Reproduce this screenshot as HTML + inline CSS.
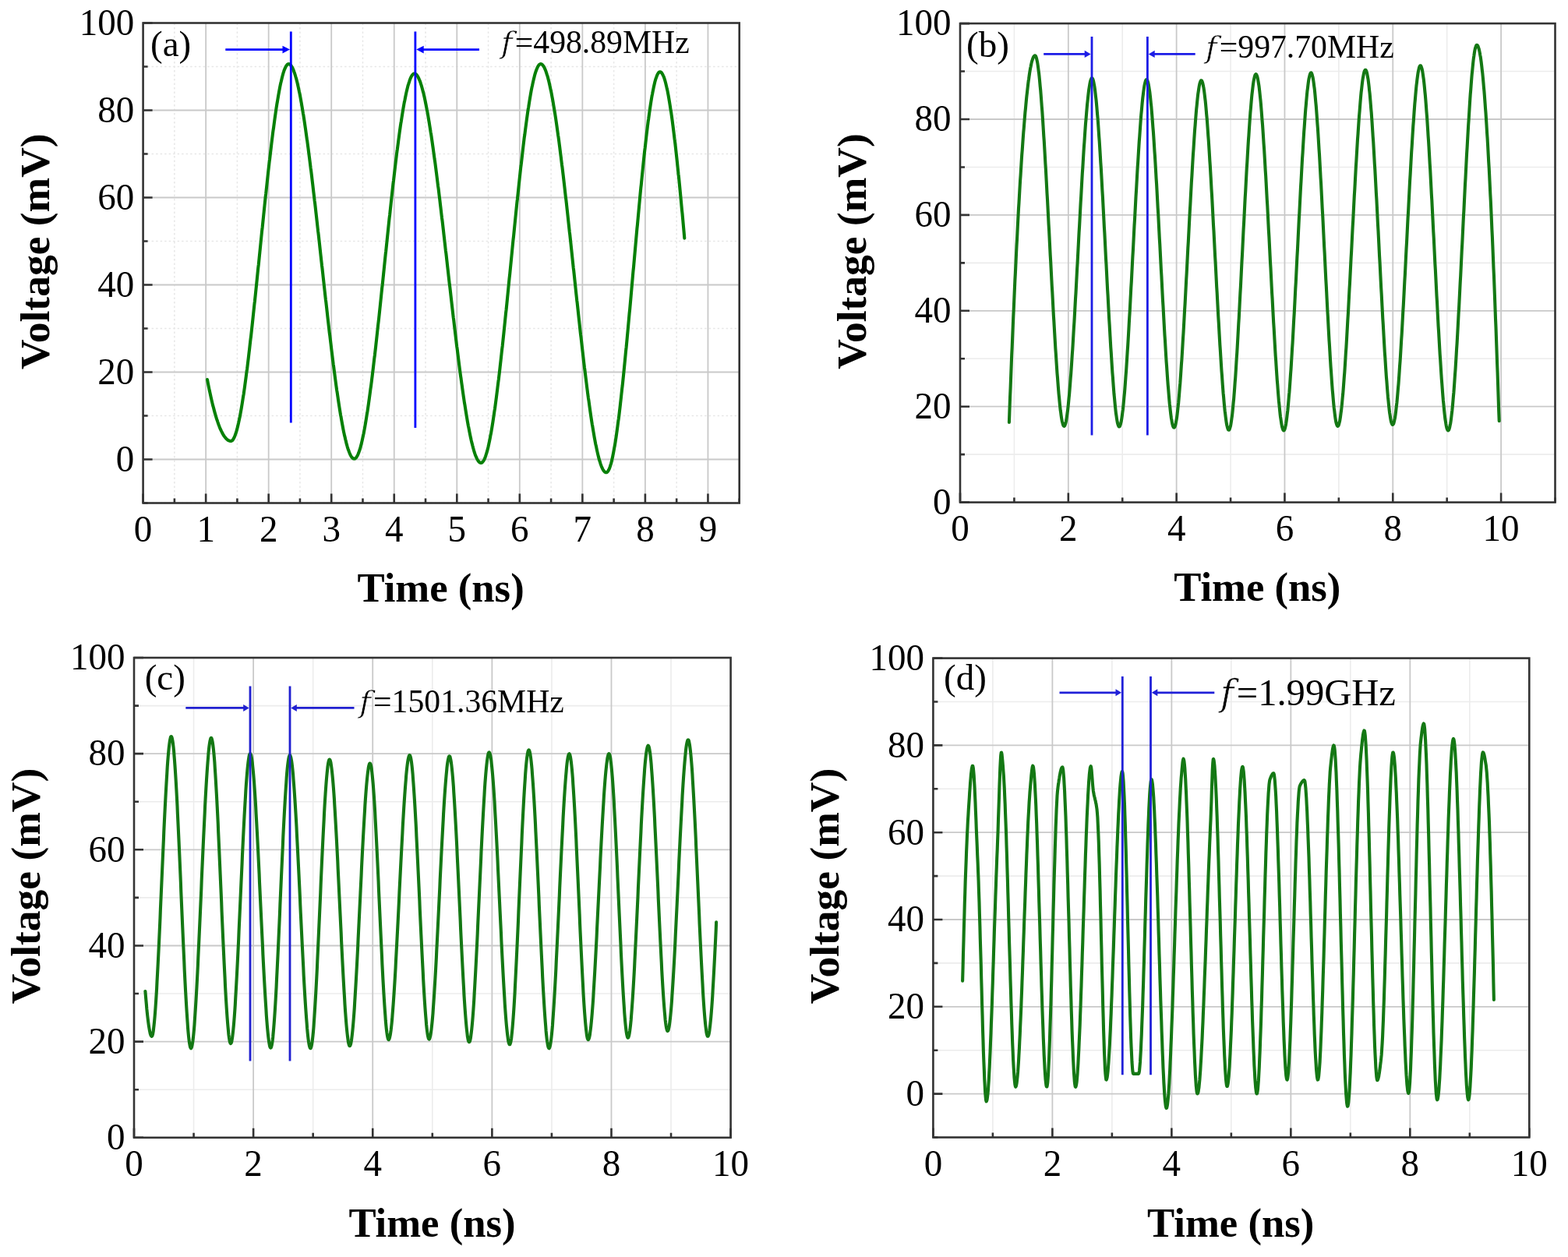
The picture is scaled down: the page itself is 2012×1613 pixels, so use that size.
<!DOCTYPE html>
<html><head><meta charset="utf-8"><title>Voltage waveforms</title><style>
html,body{margin:0;padding:0;background:#fff;}
svg{display:block;}
.gmin{stroke:#e7e7e7;stroke-width:1.5;stroke-dasharray:2.5 3;}
.gmin2{stroke:#ececec;stroke-width:1.6;}
.gmaj{stroke:#c9c9c9;stroke-width:1.8;}
.frame{fill:none;stroke:#333;stroke-width:2.6;}
.tick{fill:none;stroke:#333;stroke-width:2.6;}
.curve{fill:none;stroke:#078007;stroke-width:4.1;stroke-linejoin:round;stroke-linecap:round;}
.blue{fill:none;stroke:#0000ff;stroke-width:2.8;}
.bluef{fill:#0000ff;}
.tl{font-family:"Liberation Serif", "Times New Roman", serif;font-size:47px;fill:#000;}
.ti{font-family:"Liberation Serif", "Times New Roman", serif;font-size:53.5px;font-weight:bold;fill:#000;}
.tt{font-size:52.7px;}
.tk{font-size:49px;}
.ann{font-family:"Liberation Serif", "Times New Roman", serif;font-size:40px;fill:#000;}
.fi{font-family:"DejaVu Serif", "Liberation Serif", serif;font-style:italic;stroke:#fff;stroke-width:0.6px;paint-order:normal;}
</style></head>
<body><svg width="2012" height="1613" viewBox="0 0 2012 1613">
<rect width="2012" height="1613" fill="#fff"/>
<g id="pa">
<line x1="223.87" y1="29.5" x2="223.87" y2="645.5" class="gmin"/>
<line x1="304.41" y1="29.5" x2="304.41" y2="645.5" class="gmin"/>
<line x1="384.94" y1="29.5" x2="384.94" y2="645.5" class="gmin"/>
<line x1="465.48" y1="29.5" x2="465.48" y2="645.5" class="gmin"/>
<line x1="546.02" y1="29.5" x2="546.02" y2="645.5" class="gmin"/>
<line x1="626.55" y1="29.5" x2="626.55" y2="645.5" class="gmin"/>
<line x1="707.09" y1="29.5" x2="707.09" y2="645.5" class="gmin"/>
<line x1="787.63" y1="29.5" x2="787.63" y2="645.5" class="gmin"/>
<line x1="868.16" y1="29.5" x2="868.16" y2="645.5" class="gmin"/>
<line x1="948.7" y1="29.5" x2="948.7" y2="645.5" class="gmin"/>
<line x1="183.6" y1="645.5" x2="948.7" y2="645.5" class="gmin"/>
<line x1="183.6" y1="533.5" x2="948.7" y2="533.5" class="gmin"/>
<line x1="183.6" y1="421.5" x2="948.7" y2="421.5" class="gmin"/>
<line x1="183.6" y1="309.5" x2="948.7" y2="309.5" class="gmin"/>
<line x1="183.6" y1="197.5" x2="948.7" y2="197.5" class="gmin"/>
<line x1="183.6" y1="85.5" x2="948.7" y2="85.5" class="gmin"/>
<line x1="264.14" y1="29.5" x2="264.14" y2="645.5" class="gmaj"/>
<line x1="344.67" y1="29.5" x2="344.67" y2="645.5" class="gmaj"/>
<line x1="425.21" y1="29.5" x2="425.21" y2="645.5" class="gmaj"/>
<line x1="505.75" y1="29.5" x2="505.75" y2="645.5" class="gmaj"/>
<line x1="586.28" y1="29.5" x2="586.28" y2="645.5" class="gmaj"/>
<line x1="666.82" y1="29.5" x2="666.82" y2="645.5" class="gmaj"/>
<line x1="747.36" y1="29.5" x2="747.36" y2="645.5" class="gmaj"/>
<line x1="827.89" y1="29.5" x2="827.89" y2="645.5" class="gmaj"/>
<line x1="908.43" y1="29.5" x2="908.43" y2="645.5" class="gmaj"/>
<line x1="183.6" y1="589.5" x2="948.7" y2="589.5" class="gmaj"/>
<line x1="183.6" y1="477.5" x2="948.7" y2="477.5" class="gmaj"/>
<line x1="183.6" y1="365.5" x2="948.7" y2="365.5" class="gmaj"/>
<line x1="183.6" y1="253.5" x2="948.7" y2="253.5" class="gmaj"/>
<line x1="183.6" y1="141.5" x2="948.7" y2="141.5" class="gmaj"/>
<polyline points="266.0,487.0 266.4,489.2 266.8,491.3 267.2,493.3 267.6,495.4 268.0,497.4 268.4,499.4 268.8,501.3 269.3,503.3 269.7,505.2 270.1,507.0 270.5,508.9 270.9,510.7 271.3,512.4 271.7,514.2 272.1,515.9 272.5,517.6 272.9,519.3 273.3,520.9 273.8,522.5 274.2,524.1 274.6,525.6 275.0,527.1 275.4,528.6 275.8,530.1 276.2,531.5 276.6,532.9 277.0,534.3 277.4,535.6 277.8,536.9 278.2,538.2 278.7,539.4 279.1,540.7 279.5,541.9 279.9,543.0 280.3,544.2 280.7,545.3 281.1,546.3 281.5,547.4 281.9,548.4 282.3,549.4 282.7,550.4 283.1,551.3 283.6,552.2 284.0,553.1 284.4,553.9 284.8,554.7 285.2,555.5 285.6,556.3 286.0,557.0 286.4,557.7 286.8,558.4 287.2,559.0 287.6,559.6 288.0,560.2 288.5,560.8 288.9,561.3 289.3,561.8 289.7,562.3 290.1,562.7 290.5,563.1 290.9,563.5 291.3,563.9 291.7,564.2 292.1,564.5 292.5,564.8 292.9,565.0 293.4,565.3 293.8,565.4 294.2,565.6 294.6,565.7 295.0,565.8 295.4,565.9 295.8,566.0 296.2,566.0 296.6,565.9 297.0,565.8 297.4,565.6 297.9,565.3 298.3,565.0 298.7,564.5 299.1,564.0 299.5,563.3 299.9,562.6 300.3,561.8 300.7,561.0 301.1,560.0 301.5,559.0 301.9,557.9 302.3,556.8 302.8,555.5 303.2,554.2 303.6,552.8 304.0,551.4 304.4,549.8 304.8,548.2 305.2,546.6 305.6,544.8 306.0,543.1 306.4,541.2 306.8,539.3 307.2,537.3 307.7,535.2 308.1,533.1 308.5,530.9 308.9,528.7 309.3,526.4 309.7,524.1 310.1,521.7 310.5,519.2 310.9,516.7 311.3,514.1 311.7,511.5 312.1,508.9 312.6,506.1 313.0,503.4 313.4,500.5 313.8,497.7 314.2,494.8 314.6,491.8 315.0,488.8 315.4,485.8 315.8,482.7 316.2,479.5 316.6,476.4 317.1,473.2 317.5,469.9 317.9,466.6 318.3,463.3 318.7,459.9 319.1,456.6 319.5,453.1 319.9,449.7 320.3,446.2 320.7,442.6 321.1,439.1 321.5,435.5 322.0,431.9 322.4,428.3 322.8,424.6 323.2,420.9 323.6,417.2 324.0,413.5 324.4,409.7 324.8,405.9 325.2,402.1 325.6,398.3 326.0,394.5 326.4,390.6 326.9,386.7 327.3,382.8 327.7,378.9 328.1,375.0 328.5,371.1 328.9,367.2 329.3,363.2 329.7,359.3 330.1,355.3 330.5,351.3 330.9,347.3 331.3,343.3 331.8,339.4 332.2,335.4 332.6,331.4 333.0,327.4 333.4,323.4 333.8,319.4 334.2,315.4 334.6,311.4 335.0,307.4 335.4,303.4 335.8,299.4 336.2,295.4 336.7,291.4 337.1,287.5 337.5,283.5 337.9,279.6 338.3,275.6 338.7,271.7 339.1,267.8 339.5,263.9 339.9,260.0 340.3,256.2 340.7,252.3 341.2,248.5 341.6,244.7 342.0,240.9 342.4,237.1 342.8,233.4 343.2,229.6 343.6,225.9 344.0,222.2 344.4,218.6 344.8,215.0 345.2,211.4 345.6,207.8 346.1,204.2 346.5,200.7 346.9,197.2 347.3,193.8 347.7,190.4 348.1,187.0 348.5,183.6 348.9,180.3 349.3,177.1 349.7,173.8 350.1,170.6 350.5,167.5 351.0,164.4 351.4,161.3 351.8,158.3 352.2,155.3 352.6,152.3 353.0,149.4 353.4,146.6 353.8,143.8 354.2,141.0 354.6,138.3 355.0,135.7 355.4,133.1 355.9,130.5 356.3,128.0 356.7,125.6 357.1,123.2 357.5,120.9 357.9,118.6 358.3,116.4 358.7,114.3 359.1,112.2 359.5,110.1 359.9,108.2 360.3,106.3 360.8,104.4 361.2,102.7 361.6,101.0 362.0,99.3 362.4,97.7 362.8,96.2 363.2,94.8 363.6,93.4 364.0,92.2 364.4,90.9 364.8,89.8 365.3,88.7 365.7,87.7 366.1,86.8 366.5,86.0 366.9,85.2 367.3,84.6 367.7,84.0 368.1,83.5 368.5,83.0 368.9,82.7 369.3,82.4 369.7,82.2 370.2,82.2 370.6,82.1 371.0,82.2 371.4,82.4 371.8,82.6 372.2,82.8 372.6,83.2 373.0,83.6 373.4,84.1 373.8,84.6 374.2,85.3 374.6,85.9 375.1,86.7 375.5,87.5 375.9,88.4 376.3,89.3 376.7,90.3 377.1,91.3 377.5,92.5 377.9,93.6 378.3,94.9 378.7,96.2 379.1,97.5 379.5,98.9 380.0,100.4 380.4,101.9 380.8,103.5 381.2,105.1 381.6,106.8 382.0,108.5 382.4,110.3 382.8,112.1 383.2,114.0 383.6,115.9 384.0,117.9 384.5,120.0 384.9,122.0 385.3,124.2 385.7,126.3 386.1,128.6 386.5,130.8 386.9,133.1 387.3,135.5 387.7,137.9 388.1,140.3 388.5,142.8 388.9,145.3 389.4,147.9 389.8,150.5 390.2,153.1 390.6,155.8 391.0,158.5 391.4,161.2 391.8,164.0 392.2,166.8 392.6,169.7 393.0,172.6 393.4,175.5 393.8,178.4 394.3,181.4 394.7,184.4 395.1,187.5 395.5,190.5 395.9,193.7 396.3,196.8 396.7,199.9 397.1,203.1 397.5,206.3 397.9,209.6 398.3,212.8 398.7,216.1 399.2,219.4 399.6,222.8 400.0,226.1 400.4,229.5 400.8,232.9 401.2,236.3 401.6,239.7 402.0,243.2 402.4,246.7 402.8,250.1 403.2,253.6 403.6,257.2 404.1,260.7 404.5,264.2 404.9,267.8 405.3,271.4 405.7,275.0 406.1,278.6 406.5,282.2 406.9,285.8 407.3,289.4 407.7,293.1 408.1,296.7 408.6,300.4 409.0,304.0 409.4,307.7 409.8,311.4 410.2,315.0 410.6,318.7 411.0,322.4 411.4,326.1 411.8,329.8 412.2,333.5 412.6,337.1 413.0,340.8 413.5,344.5 413.9,348.2 414.3,351.9 414.7,355.6 415.1,359.2 415.5,362.9 415.9,366.6 416.3,370.2 416.7,373.9 417.1,377.5 417.5,381.2 417.9,384.8 418.4,388.4 418.8,392.0 419.2,395.6 419.6,399.2 420.0,402.8 420.4,406.4 420.8,409.9 421.2,413.5 421.6,417.0 422.0,420.5 422.4,424.0 422.8,427.4 423.3,430.9 423.7,434.3 424.1,437.7 424.5,441.1 424.9,444.5 425.3,447.9 425.7,451.2 426.1,454.5 426.5,457.8 426.9,461.1 427.3,464.3 427.7,467.5 428.2,470.7 428.6,473.9 429.0,477.0 429.4,480.1 429.8,483.2 430.2,486.2 430.6,489.2 431.0,492.2 431.4,495.2 431.8,498.1 432.2,501.0 432.7,503.8 433.1,506.7 433.5,509.4 433.9,512.2 434.3,514.9 434.7,517.6 435.1,520.2 435.5,522.8 435.9,525.4 436.3,527.9 436.7,530.4 437.1,532.8 437.6,535.2 438.0,537.6 438.4,539.9 438.8,542.1 439.2,544.4 439.6,546.5 440.0,548.7 440.4,550.8 440.8,552.8 441.2,554.8 441.6,556.7 442.0,558.6 442.5,560.4 442.9,562.2 443.3,564.0 443.7,565.6 444.1,567.3 444.5,568.9 444.9,570.4 445.3,571.8 445.7,573.3 446.1,574.6 446.5,575.9 446.9,577.1 447.4,578.3 447.8,579.4 448.2,580.5 448.6,581.5 449.0,582.4 449.4,583.3 449.8,584.1 450.2,584.9 450.6,585.6 451.0,586.2 451.4,586.7 451.9,587.2 452.3,587.6 452.7,588.0 453.1,588.3 453.5,588.5 453.9,588.6 454.3,588.7 454.7,588.7 455.1,588.6 455.5,588.5 455.9,588.2 456.3,587.9 456.8,587.5 457.2,587.0 457.6,586.5 458.0,585.8 458.4,585.1 458.8,584.4 459.2,583.5 459.6,582.6 460.0,581.6 460.4,580.5 460.8,579.4 461.2,578.1 461.7,576.9 462.1,575.5 462.5,574.1 462.9,572.6 463.3,571.1 463.7,569.5 464.1,567.8 464.5,566.1 464.9,564.3 465.3,562.4 465.7,560.5 466.1,558.5 466.6,556.5 467.0,554.4 467.4,552.2 467.8,550.0 468.2,547.8 468.6,545.5 469.0,543.1 469.4,540.7 469.8,538.2 470.2,535.7 470.6,533.1 471.0,530.5 471.5,527.9 471.9,525.2 472.3,522.4 472.7,519.6 473.1,516.8 473.5,513.9 473.9,511.0 474.3,508.0 474.7,505.0 475.1,501.9 475.5,498.8 476.0,495.7 476.4,492.6 476.8,489.4 477.2,486.1 477.6,482.9 478.0,479.5 478.4,476.2 478.8,472.9 479.2,469.5 479.6,466.0 480.0,462.6 480.4,459.1 480.9,455.6 481.3,452.0 481.7,448.5 482.1,444.9 482.5,441.3 482.9,437.6 483.3,434.0 483.7,430.3 484.1,426.6 484.5,422.9 484.9,419.2 485.3,415.4 485.8,411.6 486.2,407.9 486.6,404.1 487.0,400.2 487.4,396.4 487.8,392.6 488.2,388.7 488.6,384.9 489.0,381.0 489.4,377.1 489.8,373.2 490.2,369.3 490.7,365.4 491.1,361.5 491.5,357.6 491.9,353.7 492.3,349.8 492.7,345.9 493.1,341.9 493.5,338.0 493.9,334.1 494.3,330.2 494.7,326.3 495.2,322.3 495.6,318.4 496.0,314.5 496.4,310.6 496.8,306.7 497.2,302.9 497.6,299.0 498.0,295.1 498.4,291.3 498.8,287.4 499.2,283.6 499.6,279.8 500.1,276.0 500.5,272.2 500.9,268.4 501.3,264.7 501.7,260.9 502.1,257.2 502.5,253.5 502.9,249.8 503.3,246.2 503.7,242.5 504.1,238.9 504.5,235.3 505.0,231.8 505.4,228.2 505.8,224.7 506.2,221.2 506.6,217.7 507.0,214.3 507.4,210.9 507.8,207.5 508.2,204.2 508.6,200.9 509.0,197.6 509.4,194.4 509.9,191.2 510.3,188.0 510.7,184.9 511.1,181.8 511.5,178.7 511.9,175.7 512.3,172.7 512.7,169.8 513.1,166.9 513.5,164.1 513.9,161.3 514.3,158.5 514.8,155.8 515.2,153.1 515.6,150.5 516.0,147.9 516.4,145.4 516.8,142.9 517.2,140.5 517.6,138.1 518.0,135.8 518.4,133.5 518.8,131.3 519.3,129.2 519.7,127.1 520.1,125.0 520.5,123.0 520.9,121.1 521.3,119.2 521.7,117.4 522.1,115.7 522.5,114.0 522.9,112.4 523.3,110.8 523.7,109.3 524.2,107.9 524.6,106.5 525.0,105.3 525.4,104.0 525.8,102.9 526.2,101.8 526.6,100.8 527.0,99.8 527.4,99.0 527.8,98.2 528.2,97.5 528.6,96.8 529.1,96.2 529.5,95.7 529.9,95.3 530.3,95.0 530.7,94.7 531.1,94.6 531.5,94.5 531.9,94.5 532.3,94.5 532.7,94.7 533.1,94.8 533.5,95.1 534.0,95.4 534.4,95.8 534.8,96.3 535.2,96.8 535.6,97.4 536.0,98.0 536.4,98.7 536.8,99.5 537.2,100.3 537.6,101.2 538.0,102.2 538.4,103.2 538.9,104.2 539.3,105.3 539.7,106.5 540.1,107.8 540.5,109.0 540.9,110.4 541.3,111.8 541.7,113.2 542.1,114.7 542.5,116.3 542.9,117.9 543.4,119.5 543.8,121.2 544.2,123.0 544.6,124.8 545.0,126.7 545.4,128.5 545.8,130.5 546.2,132.5 546.6,134.5 547.0,136.6 547.4,138.7 547.8,140.9 548.3,143.1 548.7,145.4 549.1,147.6 549.5,150.0 549.9,152.4 550.3,154.8 550.7,157.2 551.1,159.7 551.5,162.2 551.9,164.8 552.3,167.4 552.7,170.0 553.2,172.7 553.6,175.4 554.0,178.2 554.4,180.9 554.8,183.7 555.2,186.6 555.6,189.4 556.0,192.3 556.4,195.3 556.8,198.2 557.2,201.2 557.6,204.2 558.1,207.3 558.5,210.3 558.9,213.4 559.3,216.5 559.7,219.7 560.1,222.8 560.5,226.0 560.9,229.2 561.3,232.5 561.7,235.7 562.1,239.0 562.6,242.3 563.0,245.6 563.4,248.9 563.8,252.3 564.2,255.6 564.6,259.0 565.0,262.4 565.4,265.8 565.8,269.3 566.2,272.7 566.6,276.2 567.0,279.6 567.5,283.1 567.9,286.6 568.3,290.1 568.7,293.6 569.1,297.1 569.5,300.7 569.9,304.2 570.3,307.7 570.7,311.3 571.1,314.8 571.5,318.4 571.9,322.0 572.4,325.5 572.8,329.1 573.2,332.7 573.6,336.3 574.0,339.9 574.4,343.4 574.8,347.0 575.2,350.6 575.6,354.2 576.0,357.8 576.4,361.3 576.8,364.9 577.3,368.5 577.7,372.0 578.1,375.6 578.5,379.2 578.9,382.7 579.3,386.2 579.7,389.8 580.1,393.3 580.5,396.8 580.9,400.3 581.3,403.8 581.7,407.3 582.2,410.8 582.6,414.2 583.0,417.7 583.4,421.1 583.8,424.5 584.2,427.9 584.6,431.3 585.0,434.7 585.4,438.1 585.8,441.4 586.2,444.7 586.7,448.0 587.1,451.3 587.5,454.6 587.9,457.8 588.3,461.0 588.7,464.2 589.1,467.4 589.5,470.5 589.9,473.7 590.3,476.8 590.7,479.8 591.1,482.9 591.6,485.9 592.0,488.9 592.4,491.9 592.8,494.8 593.2,497.7 593.6,500.6 594.0,503.5 594.4,506.3 594.8,509.1 595.2,511.8 595.6,514.5 596.0,517.2 596.5,519.9 596.9,522.5 597.3,525.1 597.7,527.6 598.1,530.1 598.5,532.6 598.9,535.0 599.3,537.4 599.7,539.8 600.1,542.1 600.5,544.4 600.9,546.6 601.4,548.8 601.8,550.9 602.2,553.0 602.6,555.1 603.0,557.1 603.4,559.1 603.8,561.0 604.2,562.8 604.6,564.7 605.0,566.4 605.4,568.2 605.9,569.8 606.3,571.5 606.7,573.0 607.1,574.6 607.5,576.0 607.9,577.5 608.3,578.8 608.7,580.1 609.1,581.4 609.5,582.6 609.9,583.7 610.3,584.8 610.8,585.9 611.2,586.8 611.6,587.7 612.0,588.6 612.4,589.4 612.8,590.1 613.2,590.8 613.6,591.4 614.0,591.9 614.4,592.4 614.8,592.8 615.2,593.2 615.7,593.5 616.1,593.7 616.5,593.9 616.9,594.0 617.3,594.0 617.7,593.9 618.1,593.8 618.5,593.5 618.9,593.2 619.3,592.8 619.7,592.3 620.1,591.8 620.6,591.1 621.0,590.4 621.4,589.6 621.8,588.7 622.2,587.8 622.6,586.7 623.0,585.6 623.4,584.4 623.8,583.2 624.2,581.9 624.6,580.5 625.0,579.0 625.5,577.5 625.9,575.8 626.3,574.2 626.7,572.4 627.1,570.6 627.5,568.7 627.9,566.8 628.3,564.8 628.7,562.8 629.1,560.6 629.5,558.4 630.0,556.2 630.4,553.9 630.8,551.5 631.2,549.1 631.6,546.7 632.0,544.1 632.4,541.6 632.8,538.9 633.2,536.2 633.6,533.5 634.0,530.7 634.4,527.9 634.9,525.0 635.3,522.1 635.7,519.1 636.1,516.1 636.5,513.0 636.9,509.9 637.3,506.8 637.7,503.6 638.1,500.4 638.5,497.1 638.9,493.8 639.3,490.4 639.8,487.0 640.2,483.6 640.6,480.2 641.0,476.7 641.4,473.2 641.8,469.6 642.2,466.0 642.6,462.4 643.0,458.8 643.4,455.1 643.8,451.4 644.2,447.7 644.7,443.9 645.1,440.1 645.5,436.3 645.9,432.5 646.3,428.7 646.7,424.8 647.1,420.9 647.5,417.0 647.9,413.1 648.3,409.1 648.7,405.2 649.1,401.2 649.6,397.2 650.0,393.2 650.4,389.2 650.8,385.2 651.2,381.1 651.6,377.1 652.0,373.0 652.4,368.9 652.8,364.9 653.2,360.8 653.6,356.7 654.1,352.6 654.5,348.5 654.9,344.4 655.3,340.4 655.7,336.3 656.1,332.2 656.5,328.1 656.9,324.0 657.3,319.9 657.7,315.8 658.1,311.7 658.5,307.7 659.0,303.6 659.4,299.5 659.8,295.5 660.2,291.4 660.6,287.4 661.0,283.4 661.4,279.4 661.8,275.4 662.2,271.4 662.6,267.5 663.0,263.5 663.4,259.6 663.9,255.7 664.3,251.8 664.7,247.9 665.1,244.1 665.5,240.2 665.9,236.4 666.3,232.7 666.7,228.9 667.1,225.2 667.5,221.5 667.9,217.8 668.3,214.1 668.8,210.5 669.2,206.9 669.6,203.4 670.0,199.9 670.4,196.4 670.8,192.9 671.2,189.5 671.6,186.1 672.0,182.7 672.4,179.4 672.8,176.1 673.3,172.9 673.7,169.7 674.1,166.6 674.5,163.5 674.9,160.4 675.3,157.4 675.7,154.4 676.1,151.4 676.5,148.6 676.9,145.7 677.3,142.9 677.7,140.2 678.2,137.5 678.6,134.9 679.0,132.3 679.4,129.8 679.8,127.3 680.2,124.9 680.6,122.5 681.0,120.2 681.4,117.9 681.8,115.7 682.2,113.6 682.6,111.6 683.1,109.5 683.5,107.6 683.9,105.7 684.3,103.9 684.7,102.2 685.1,100.5 685.5,98.9 685.9,97.3 686.3,95.8 686.7,94.4 687.1,93.1 687.5,91.8 688.0,90.6 688.4,89.5 688.8,88.5 689.2,87.5 689.6,86.6 690.0,85.8 690.4,85.1 690.8,84.4 691.2,83.8 691.6,83.3 692.0,82.9 692.4,82.6 692.9,82.4 693.3,82.2 693.7,82.1 694.1,82.2 694.5,82.2 694.9,82.4 695.3,82.6 695.7,82.9 696.1,83.3 696.5,83.8 696.9,84.3 697.4,84.9 697.8,85.5 698.2,86.2 698.6,87.0 699.0,87.9 699.4,88.8 699.8,89.8 700.2,90.8 700.6,91.9 701.0,93.1 701.4,94.3 701.8,95.6 702.3,97.0 702.7,98.4 703.1,99.8 703.5,101.4 703.9,103.0 704.3,104.6 704.7,106.3 705.1,108.0 705.5,109.9 705.9,111.7 706.3,113.6 706.7,115.6 707.2,117.6 707.6,119.7 708.0,121.8 708.4,124.0 708.8,126.2 709.2,128.4 709.6,130.7 710.0,133.1 710.4,135.5 710.8,137.9 711.2,140.4 711.6,143.0 712.1,145.5 712.5,148.2 712.9,150.8 713.3,153.5 713.7,156.3 714.1,159.0 714.5,161.9 714.9,164.7 715.3,167.6 715.7,170.5 716.1,173.5 716.6,176.5 717.0,179.5 717.4,182.6 717.8,185.7 718.2,188.8 718.6,192.0 719.0,195.2 719.4,198.4 719.8,201.6 720.2,204.9 720.6,208.2 721.0,211.6 721.5,214.9 721.9,218.3 722.3,221.7 722.7,225.1 723.1,228.6 723.5,232.1 723.9,235.6 724.3,239.1 724.7,242.6 725.1,246.2 725.5,249.8 725.9,253.4 726.4,257.0 726.8,260.6 727.2,264.3 727.6,268.0 728.0,271.6 728.4,275.3 728.8,279.0 729.2,282.8 729.6,286.5 730.0,290.2 730.4,294.0 730.8,297.7 731.3,301.5 731.7,305.3 732.1,309.1 732.5,312.9 732.9,316.7 733.3,320.5 733.7,324.3 734.1,328.1 734.5,331.9 734.9,335.7 735.3,339.5 735.7,343.4 736.2,347.2 736.6,351.0 737.0,354.8 737.4,358.6 737.8,362.4 738.2,366.3 738.6,370.1 739.0,373.9 739.4,377.7 739.8,381.4 740.2,385.2 740.7,389.0 741.1,392.8 741.5,396.5 741.9,400.3 742.3,404.0 742.7,407.7 743.1,411.4 743.5,415.1 743.9,418.8 744.3,422.5 744.7,426.2 745.1,429.8 745.6,433.4 746.0,437.0 746.4,440.6 746.8,444.2 747.2,447.7 747.6,451.3 748.0,454.8 748.4,458.3 748.8,461.7 749.2,465.2 749.6,468.6 750.0,472.0 750.5,475.4 750.9,478.7 751.3,482.0 751.7,485.3 752.1,488.6 752.5,491.8 752.9,495.0 753.3,498.2 753.7,501.3 754.1,504.5 754.5,507.5 754.9,510.6 755.4,513.6 755.8,516.6 756.2,519.5 756.6,522.4 757.0,525.3 757.4,528.1 757.8,530.9 758.2,533.7 758.6,536.4 759.0,539.1 759.4,541.7 759.8,544.3 760.3,546.9 760.7,549.4 761.1,551.8 761.5,554.3 761.9,556.6 762.3,559.0 762.7,561.3 763.1,563.5 763.5,565.7 763.9,567.8 764.3,569.9 764.8,571.9 765.2,573.9 765.6,575.9 766.0,577.8 766.4,579.6 766.8,581.4 767.2,583.1 767.6,584.7 768.0,586.4 768.4,587.9 768.8,589.4 769.2,590.8 769.7,592.2 770.1,593.5 770.5,594.8 770.9,596.0 771.3,597.1 771.7,598.2 772.1,599.2 772.5,600.2 772.9,601.0 773.3,601.9 773.7,602.6 774.1,603.3 774.6,603.9 775.0,604.5 775.4,604.9 775.8,605.3 776.2,605.7 776.6,605.9 777.0,606.1 777.4,606.3 777.8,606.3 778.2,606.3 778.6,606.1 779.0,605.9 779.5,605.5 779.9,605.0 780.3,604.5 780.7,603.8 781.1,603.1 781.5,602.2 781.9,601.3 782.3,600.2 782.7,599.1 783.1,597.8 783.5,596.5 784.0,595.1 784.4,593.6 784.8,592.0 785.2,590.3 785.6,588.5 786.0,586.7 786.4,584.7 786.8,582.7 787.2,580.6 787.6,578.4 788.0,576.2 788.4,573.9 788.9,571.5 789.3,569.0 789.7,566.4 790.1,563.8 790.5,561.1 790.9,558.4 791.3,555.5 791.7,552.6 792.1,549.7 792.5,546.7 792.9,543.6 793.3,540.4 793.8,537.2 794.2,534.0 794.6,530.7 795.0,527.3 795.4,523.9 795.8,520.4 796.2,516.8 796.6,513.3 797.0,509.6 797.4,505.9 797.8,502.2 798.2,498.4 798.7,494.6 799.1,490.8 799.5,486.8 799.9,482.9 800.3,478.9 800.7,474.9 801.1,470.8 801.5,466.7 801.9,462.6 802.3,458.5 802.7,454.3 803.1,450.0 803.6,445.8 804.0,441.5 804.4,437.2 804.8,432.9 805.2,428.5 805.6,424.2 806.0,419.8 806.4,415.3 806.8,410.9 807.2,406.5 807.6,402.0 808.1,397.5 808.5,393.0 808.9,388.5 809.3,384.0 809.7,379.4 810.1,374.9 810.5,370.3 810.9,365.8 811.3,361.2 811.7,356.7 812.1,352.1 812.5,347.6 813.0,343.0 813.4,338.4 813.8,333.9 814.2,329.3 814.6,324.8 815.0,320.2 815.4,315.7 815.8,311.2 816.2,306.7 816.6,302.2 817.0,297.7 817.4,293.2 817.9,288.7 818.3,284.3 818.7,279.9 819.1,275.5 819.5,271.1 819.9,266.7 820.3,262.4 820.7,258.1 821.1,253.8 821.5,249.5 821.9,245.3 822.3,241.1 822.8,236.9 823.2,232.8 823.6,228.7 824.0,224.6 824.4,220.6 824.8,216.6 825.2,212.7 825.6,208.7 826.0,204.9 826.4,201.0 826.8,197.3 827.2,193.5 827.7,189.8 828.1,186.2 828.5,182.6 828.9,179.0 829.3,175.5 829.7,172.1 830.1,168.7 830.5,165.4 830.9,162.1 831.3,158.9 831.7,155.7 832.2,152.6 832.6,149.6 833.0,146.6 833.4,143.7 833.8,140.9 834.2,138.1 834.6,135.4 835.0,132.7 835.4,130.2 835.8,127.7 836.2,125.2 836.6,122.9 837.1,120.6 837.5,118.4 837.9,116.3 838.3,114.3 838.7,112.3 839.1,110.5 839.5,108.7 839.9,107.0 840.3,105.3 840.7,103.8 841.1,102.4 841.5,101.0 842.0,99.8 842.4,98.6 842.8,97.5 843.2,96.5 843.6,95.7 844.0,94.9 844.4,94.2 844.8,93.6 845.2,93.1 845.6,92.7 846.0,92.5 846.4,92.3 846.9,92.2 847.3,92.3 847.7,92.4 848.1,92.6 848.5,92.9 848.9,93.4 849.3,93.9 849.7,94.5 850.1,95.2 850.5,95.9 850.9,96.8 851.4,97.8 851.8,98.8 852.2,99.9 852.6,101.1 853.0,102.4 853.4,103.8 853.8,105.3 854.2,106.8 854.6,108.4 855.0,110.1 855.4,111.9 855.8,113.8 856.3,115.7 856.7,117.7 857.1,119.8 857.5,121.9 857.9,124.2 858.3,126.5 858.7,128.8 859.1,131.3 859.5,133.8 859.9,136.3 860.3,139.0 860.7,141.7 861.2,144.4 861.6,147.2 862.0,150.1 862.4,153.1 862.8,156.1 863.2,159.2 863.6,162.3 864.0,165.5 864.4,168.7 864.8,172.0 865.2,175.4 865.6,178.8 866.1,182.2 866.5,185.7 866.9,189.3 867.3,192.9 867.7,196.6 868.1,200.3 868.5,204.0 868.9,207.8 869.3,211.7 869.7,215.6 870.1,219.5 870.5,223.5 871.0,227.5 871.4,231.5 871.8,235.6 872.2,239.7 872.6,243.9 873.0,248.1 873.4,252.3 873.8,256.6 874.2,260.9 874.6,265.3 875.0,269.6 875.5,274.0 875.9,278.5 876.3,282.9 876.7,287.4 877.1,291.9 877.5,296.4 877.9,301.0 878.3,305.6" class="curve"/>
<path d="M373.3 40.6V542.5M532.9 40.6V549M289.3 63.6H367.3M538.9 63.6H615" class="blue" style="stroke:#0000ff"/>
<path d="M372 63.6L362.5 58.8L362.5 68.4Z" class="bluef" style="fill:#0000ff"/>
<path d="M534.2 63.6L543.7 58.8L543.7 68.4Z" class="bluef" style="fill:#0000ff"/>
<text x="643" y="67.5" class="ann" style="font-size:41.7px"><tspan class="fi" style="font-size:39.62px">f</tspan><tspan dx="3.13">=</tspan>498.89MHz</text>
<path d="M183.6 645.5v-12M264.14 645.5v-12M344.67 645.5v-12M425.21 645.5v-12M505.75 645.5v-12M586.28 645.5v-12M666.82 645.5v-12M747.36 645.5v-12M827.89 645.5v-12M908.43 645.5v-12M223.87 645.5v-6M304.41 645.5v-6M384.94 645.5v-6M465.48 645.5v-6M546.02 645.5v-6M626.55 645.5v-6M707.09 645.5v-6M787.63 645.5v-6M868.16 645.5v-6M948.7 645.5v-6M183.6 589.5h12M183.6 477.5h12M183.6 365.5h12M183.6 253.5h12M183.6 141.5h12M183.6 29.5h12M183.6 645.5h6M183.6 533.5h6M183.6 421.5h6M183.6 309.5h6M183.6 197.5h6M183.6 85.5h6" class="tick"/>
<rect x="183.6" y="29.5" width="765.1" height="616" class="frame"/>
<text transform="translate(183.6 694.8) scale(0.96 1)" class="tl tk" text-anchor="middle">0</text>
<text transform="translate(264.14 694.8) scale(0.96 1)" class="tl tk" text-anchor="middle">1</text>
<text transform="translate(344.67 694.8) scale(0.96 1)" class="tl tk" text-anchor="middle">2</text>
<text transform="translate(425.21 694.8) scale(0.96 1)" class="tl tk" text-anchor="middle">3</text>
<text transform="translate(505.75 694.8) scale(0.96 1)" class="tl tk" text-anchor="middle">4</text>
<text transform="translate(586.28 694.8) scale(0.96 1)" class="tl tk" text-anchor="middle">5</text>
<text transform="translate(666.82 694.8) scale(0.96 1)" class="tl tk" text-anchor="middle">6</text>
<text transform="translate(747.36 694.8) scale(0.96 1)" class="tl tk" text-anchor="middle">7</text>
<text transform="translate(827.89 694.8) scale(0.96 1)" class="tl tk" text-anchor="middle">8</text>
<text transform="translate(908.43 694.8) scale(0.96 1)" class="tl tk" text-anchor="middle">9</text>
<text transform="translate(172.2 604.8) scale(0.96 1)" class="tl tk" text-anchor="end">0</text>
<text transform="translate(172.2 492.8) scale(0.96 1)" class="tl tk" text-anchor="end">20</text>
<text transform="translate(172.2 380.8) scale(0.96 1)" class="tl tk" text-anchor="end">40</text>
<text transform="translate(172.2 268.8) scale(0.96 1)" class="tl tk" text-anchor="end">60</text>
<text transform="translate(172.2 156.8) scale(0.96 1)" class="tl tk" text-anchor="end">80</text>
<text transform="translate(172.2 44.8) scale(0.96 1)" class="tl tk" text-anchor="end">100</text>
</g>
<g id="pb">
<line x1="1301.41" y1="30.1" x2="1301.41" y2="644.6" class="gmin2"/>
<line x1="1440.23" y1="30.1" x2="1440.23" y2="644.6" class="gmin2"/>
<line x1="1579.05" y1="30.1" x2="1579.05" y2="644.6" class="gmin2"/>
<line x1="1717.86" y1="30.1" x2="1717.86" y2="644.6" class="gmin2"/>
<line x1="1856.68" y1="30.1" x2="1856.68" y2="644.6" class="gmin2"/>
<line x1="1995.5" y1="30.1" x2="1995.5" y2="644.6" class="gmin2"/>
<line x1="1232" y1="583.15" x2="1995.5" y2="583.15" class="gmin2"/>
<line x1="1232" y1="460.25" x2="1995.5" y2="460.25" class="gmin2"/>
<line x1="1232" y1="337.35" x2="1995.5" y2="337.35" class="gmin2"/>
<line x1="1232" y1="214.45" x2="1995.5" y2="214.45" class="gmin2"/>
<line x1="1232" y1="91.55" x2="1995.5" y2="91.55" class="gmin2"/>
<line x1="1370.82" y1="30.1" x2="1370.82" y2="644.6" class="gmaj"/>
<line x1="1509.64" y1="30.1" x2="1509.64" y2="644.6" class="gmaj"/>
<line x1="1648.45" y1="30.1" x2="1648.45" y2="644.6" class="gmaj"/>
<line x1="1787.27" y1="30.1" x2="1787.27" y2="644.6" class="gmaj"/>
<line x1="1926.09" y1="30.1" x2="1926.09" y2="644.6" class="gmaj"/>
<line x1="1232" y1="521.7" x2="1995.5" y2="521.7" class="gmaj"/>
<line x1="1232" y1="398.8" x2="1995.5" y2="398.8" class="gmaj"/>
<line x1="1232" y1="275.9" x2="1995.5" y2="275.9" class="gmaj"/>
<line x1="1232" y1="153" x2="1995.5" y2="153" class="gmaj"/>
<polyline points="1294.9,542.0 1295.3,530.8 1295.7,519.7 1296.1,508.7 1296.6,497.9 1297.0,487.2 1297.4,476.6 1297.8,466.1 1298.2,455.7 1298.7,445.5 1299.1,435.4 1299.5,425.4 1299.9,415.6 1300.3,405.8 1300.8,396.2 1301.2,386.7 1301.6,377.4 1302.0,368.2 1302.4,359.1 1302.9,350.1 1303.3,341.3 1303.7,332.6 1304.1,324.0 1304.5,315.6 1305.0,307.3 1305.4,299.1 1305.8,291.0 1306.2,283.1 1306.6,275.4 1307.0,267.7 1307.5,260.2 1307.9,252.9 1308.3,245.6 1308.7,238.5 1309.1,231.6 1309.6,224.8 1310.0,218.1 1310.4,211.6 1310.8,205.2 1311.2,198.9 1311.7,192.8 1312.1,186.8 1312.5,181.0 1312.9,175.3 1313.3,169.8 1313.8,164.4 1314.2,159.1 1314.6,154.0 1315.0,149.1 1315.4,144.3 1315.9,139.6 1316.3,135.1 1316.7,130.7 1317.1,126.5 1317.5,122.5 1318.0,118.5 1318.4,114.8 1318.8,111.2 1319.2,107.7 1319.6,104.4 1320.1,101.2 1320.5,98.2 1320.9,95.4 1321.3,92.7 1321.7,90.2 1322.1,87.8 1322.6,85.6 1323.0,83.5 1323.4,81.6 1323.8,79.9 1324.2,78.3 1324.7,76.9 1325.1,75.6 1325.5,74.5 1325.9,73.5 1326.3,72.8 1326.8,72.1 1327.2,71.7 1327.6,71.4 1328.0,71.3 1328.4,71.4 1328.9,71.8 1329.3,72.6 1329.7,73.7 1330.1,75.2 1330.5,77.0 1331.0,79.1 1331.4,81.5 1331.8,84.2 1332.2,87.2 1332.6,90.4 1333.1,94.0 1333.5,97.8 1333.9,101.9 1334.3,106.2 1334.7,110.8 1335.2,115.5 1335.6,120.6 1336.0,125.8 1336.4,131.3 1336.8,136.9 1337.3,142.7 1337.7,148.8 1338.1,155.0 1338.5,161.3 1338.9,167.9 1339.3,174.6 1339.8,181.4 1340.2,188.3 1340.6,195.4 1341.0,202.6 1341.4,210.0 1341.9,217.4 1342.3,224.9 1342.7,232.5 1343.1,240.2 1343.5,248.0 1344.0,255.8 1344.4,263.7 1344.8,271.6 1345.2,279.5 1345.6,287.5 1346.1,295.5 1346.5,303.5 1346.9,311.6 1347.3,319.6 1347.7,327.6 1348.2,335.6 1348.6,343.6 1349.0,351.5 1349.4,359.4 1349.8,367.2 1350.3,375.0 1350.7,382.7 1351.1,390.4 1351.5,397.9 1351.9,405.4 1352.4,412.8 1352.8,420.0 1353.2,427.1 1353.6,434.2 1354.0,441.0 1354.4,447.8 1354.9,454.4 1355.3,460.8 1355.7,467.1 1356.1,473.2 1356.5,479.1 1357.0,484.8 1357.4,490.3 1357.8,495.6 1358.2,500.7 1358.6,505.6 1359.1,510.3 1359.5,514.7 1359.9,518.9 1360.3,522.8 1360.7,526.4 1361.2,529.8 1361.6,532.9 1362.0,535.7 1362.4,538.2 1362.8,540.4 1363.3,542.3 1363.7,543.9 1364.1,545.2 1364.5,546.1 1364.9,546.7 1365.4,546.9 1365.8,546.8 1366.2,546.3 1366.6,545.4 1367.0,544.2 1367.5,542.7 1367.9,540.8 1368.3,538.6 1368.7,536.1 1369.1,533.3 1369.5,530.3 1370.0,526.9 1370.4,523.3 1370.8,519.4 1371.2,515.2 1371.6,510.8 1372.1,506.1 1372.5,501.2 1372.9,496.1 1373.3,490.8 1373.7,485.3 1374.2,479.6 1374.6,473.7 1375.0,467.6 1375.4,461.3 1375.8,454.9 1376.3,448.3 1376.7,441.6 1377.1,434.7 1377.5,427.7 1377.9,420.6 1378.4,413.4 1378.8,406.1 1379.2,398.7 1379.6,391.2 1380.0,383.6 1380.5,376.0 1380.9,368.3 1381.3,360.5 1381.7,352.8 1382.1,344.9 1382.6,337.1 1383.0,329.2 1383.4,321.4 1383.8,313.5 1384.2,305.7 1384.6,297.8 1385.1,290.0 1385.5,282.3 1385.9,274.6 1386.3,266.9 1386.7,259.3 1387.2,251.8 1387.6,244.3 1388.0,236.9 1388.4,229.7 1388.8,222.5 1389.3,215.5 1389.7,208.6 1390.1,201.8 1390.5,195.1 1390.9,188.6 1391.4,182.3 1391.8,176.1 1392.2,170.1 1392.6,164.3 1393.0,158.7 1393.5,153.3 1393.9,148.1 1394.3,143.1 1394.7,138.3 1395.1,133.8 1395.6,129.6 1396.0,125.5 1396.4,121.8 1396.8,118.3 1397.2,115.1 1397.7,112.1 1398.1,109.5 1398.5,107.2 1398.9,105.2 1399.3,103.5 1399.8,102.2 1400.2,101.1 1400.6,100.5 1401.0,100.2 1401.4,100.2 1401.8,100.7 1402.3,101.5 1402.7,102.7 1403.1,104.2 1403.5,106.1 1403.9,108.3 1404.4,110.8 1404.8,113.6 1405.2,116.8 1405.6,120.2 1406.0,124.0 1406.5,128.0 1406.9,132.2 1407.3,136.8 1407.7,141.6 1408.1,146.6 1408.6,151.9 1409.0,157.3 1409.4,163.0 1409.8,168.9 1410.2,175.0 1410.7,181.3 1411.1,187.8 1411.5,194.4 1411.9,201.2 1412.3,208.1 1412.8,215.2 1413.2,222.4 1413.6,229.7 1414.0,237.1 1414.4,244.7 1414.9,252.3 1415.3,260.0 1415.7,267.8 1416.1,275.6 1416.5,283.5 1416.9,291.5 1417.4,299.5 1417.8,307.5 1418.2,315.5 1418.6,323.6 1419.0,331.6 1419.5,339.6 1419.9,347.7 1420.3,355.6 1420.7,363.6 1421.1,371.5 1421.6,379.4 1422.0,387.1 1422.4,394.9 1422.8,402.5 1423.2,410.0 1423.7,417.5 1424.1,424.8 1424.5,432.0 1424.9,439.1 1425.3,446.0 1425.8,452.8 1426.2,459.4 1426.6,465.9 1427.0,472.2 1427.4,478.3 1427.9,484.2 1428.3,489.9 1428.7,495.4 1429.1,500.7 1429.5,505.8 1430.0,510.6 1430.4,515.1 1430.8,519.4 1431.2,523.4 1431.6,527.2 1432.0,530.7 1432.5,533.8 1432.9,536.7 1433.3,539.2 1433.7,541.5 1434.1,543.3 1434.6,544.9 1435.0,546.1 1435.4,546.9 1435.8,547.4 1436.2,547.5 1436.7,547.2 1437.1,546.5 1437.5,545.5 1437.9,544.2 1438.3,542.4 1438.8,540.4 1439.2,538.0 1439.6,535.3 1440.0,532.3 1440.4,529.1 1440.9,525.5 1441.3,521.6 1441.7,517.5 1442.1,513.1 1442.5,508.5 1443.0,503.6 1443.4,498.5 1443.8,493.1 1444.2,487.6 1444.6,481.8 1445.1,475.9 1445.5,469.7 1445.9,463.4 1446.3,456.9 1446.7,450.3 1447.2,443.5 1447.6,436.5 1448.0,429.5 1448.4,422.3 1448.8,414.9 1449.2,407.5 1449.7,400.0 1450.1,392.4 1450.5,384.7 1450.9,377.0 1451.3,369.2 1451.8,361.3 1452.2,353.4 1452.6,345.5 1453.0,337.5 1453.4,329.5 1453.9,321.5 1454.3,313.6 1454.7,305.6 1455.1,297.7 1455.5,289.7 1456.0,281.9 1456.4,274.0 1456.8,266.3 1457.2,258.6 1457.6,251.0 1458.1,243.4 1458.5,236.0 1458.9,228.7 1459.3,221.4 1459.7,214.3 1460.2,207.4 1460.6,200.5 1461.0,193.9 1461.4,187.3 1461.8,181.0 1462.3,174.8 1462.7,168.8 1463.1,163.0 1463.5,157.4 1463.9,152.0 1464.3,146.9 1464.8,142.0 1465.2,137.3 1465.6,132.8 1466.0,128.7 1466.4,124.8 1466.9,121.1 1467.3,117.8 1467.7,114.7 1468.1,112.0 1468.5,109.5 1469.0,107.4 1469.4,105.7 1469.8,104.2 1470.2,103.1 1470.6,102.4 1471.1,102.0 1471.5,102.1 1471.9,102.4 1472.3,103.2 1472.7,104.3 1473.2,105.8 1473.6,107.6 1474.0,109.7 1474.4,112.2 1474.8,114.9 1475.3,118.0 1475.7,121.4 1476.1,125.0 1476.5,129.0 1476.9,133.1 1477.4,137.6 1477.8,142.3 1478.2,147.2 1478.6,152.4 1479.0,157.8 1479.4,163.4 1479.9,169.2 1480.3,175.2 1480.7,181.4 1481.1,187.8 1481.5,194.3 1482.0,201.0 1482.4,207.8 1482.8,214.8 1483.2,221.9 1483.6,229.1 1484.1,236.5 1484.5,243.9 1484.9,251.5 1485.3,259.1 1485.7,266.8 1486.2,274.6 1486.6,282.4 1487.0,290.3 1487.4,298.2 1487.8,306.2 1488.3,314.1 1488.7,322.1 1489.1,330.1 1489.5,338.1 1489.9,346.0 1490.4,354.0 1490.8,361.9 1491.2,369.8 1491.6,377.6 1492.0,385.3 1492.5,393.0 1492.9,400.6 1493.3,408.2 1493.7,415.6 1494.1,422.9 1494.5,430.1 1495.0,437.2 1495.4,444.2 1495.8,451.0 1496.2,457.6 1496.6,464.1 1497.1,470.5 1497.5,476.6 1497.9,482.6 1498.3,488.4 1498.7,493.9 1499.2,499.3 1499.6,504.4 1500.0,509.3 1500.4,514.0 1500.8,518.4 1501.3,522.5 1501.7,526.4 1502.1,530.0 1502.5,533.3 1502.9,536.3 1503.4,539.0 1503.8,541.4 1504.2,543.5 1504.6,545.3 1505.0,546.7 1505.5,547.7 1505.9,548.4 1506.3,548.7 1506.7,548.7 1507.1,548.2 1507.6,547.4 1508.0,546.3 1508.4,544.7 1508.8,542.9 1509.2,540.7 1509.7,538.2 1510.1,535.4 1510.5,532.2 1510.9,528.8 1511.3,525.1 1511.7,521.1 1512.2,516.9 1512.6,512.3 1513.0,507.6 1513.4,502.6 1513.8,497.3 1514.3,491.9 1514.7,486.2 1515.1,480.4 1515.5,474.3 1515.9,468.0 1516.4,461.6 1516.8,455.0 1517.2,448.3 1517.6,441.4 1518.0,434.3 1518.5,427.2 1518.9,419.9 1519.3,412.5 1519.7,405.0 1520.1,397.4 1520.6,389.7 1521.0,382.0 1521.4,374.1 1521.8,366.3 1522.2,358.4 1522.7,350.4 1523.1,342.4 1523.5,334.4 1523.9,326.4 1524.3,318.4 1524.8,310.4 1525.2,302.4 1525.6,294.5 1526.0,286.5 1526.4,278.7 1526.8,270.8 1527.3,263.1 1527.7,255.4 1528.1,247.8 1528.5,240.3 1528.9,232.9 1529.4,225.6 1529.8,218.4 1530.2,211.3 1530.6,204.4 1531.0,197.7 1531.5,191.1 1531.9,184.6 1532.3,178.3 1532.7,172.3 1533.1,166.4 1533.6,160.7 1534.0,155.2 1534.4,149.9 1534.8,144.9 1535.2,140.1 1535.7,135.6 1536.1,131.3 1536.5,127.3 1536.9,123.5 1537.3,120.1 1537.8,116.9 1538.2,114.1 1538.6,111.5 1539.0,109.3 1539.4,107.4 1539.9,105.8 1540.3,104.6 1540.7,103.8 1541.1,103.3 1541.5,103.2 1541.9,103.5 1542.4,104.2 1542.8,105.2 1543.2,106.5 1543.6,108.2 1544.0,110.3 1544.5,112.6 1544.9,115.3 1545.3,118.3 1545.7,121.5 1546.1,125.1 1546.6,128.9 1547.0,133.0 1547.4,137.4 1547.8,142.0 1548.2,146.9 1548.7,152.0 1549.1,157.3 1549.5,162.8 1549.9,168.5 1550.3,174.5 1550.8,180.6 1551.2,186.9 1551.6,193.4 1552.0,200.0 1552.4,206.8 1552.9,213.7 1553.3,220.8 1553.7,227.9 1554.1,235.2 1554.5,242.6 1555.0,250.2 1555.4,257.7 1555.8,265.4 1556.2,273.2 1556.6,281.0 1557.0,288.8 1557.5,296.7 1557.9,304.7 1558.3,312.6 1558.7,320.6 1559.1,328.6 1559.6,336.6 1560.0,344.6 1560.4,352.5 1560.8,360.4 1561.2,368.3 1561.7,376.2 1562.1,384.0 1562.5,391.7 1562.9,399.4 1563.3,406.9 1563.8,414.4 1564.2,421.8 1564.6,429.1 1565.0,436.2 1565.4,443.2 1565.9,450.1 1566.3,456.9 1566.7,463.4 1567.1,469.9 1567.5,476.1 1568.0,482.2 1568.4,488.1 1568.8,493.8 1569.2,499.2 1569.6,504.5 1570.1,509.5 1570.5,514.3 1570.9,518.9 1571.3,523.1 1571.7,527.2 1572.2,530.9 1572.6,534.4 1573.0,537.6 1573.4,540.5 1573.8,543.1 1574.2,545.4 1574.7,547.3 1575.1,548.9 1575.5,550.2 1575.9,551.1 1576.3,551.6 1576.8,551.8 1577.2,551.6 1577.6,551.0 1578.0,550.0 1578.4,548.7 1578.9,547.0 1579.3,544.9 1579.7,542.5 1580.1,539.8 1580.5,536.8 1581.0,533.4 1581.4,529.7 1581.8,525.8 1582.2,521.5 1582.6,517.0 1583.1,512.3 1583.5,507.2 1583.9,502.0 1584.3,496.5 1584.7,490.7 1585.2,484.8 1585.6,478.6 1586.0,472.3 1586.4,465.7 1586.8,459.0 1587.3,452.1 1587.7,445.1 1588.1,437.9 1588.5,430.6 1588.9,423.1 1589.3,415.5 1589.8,407.8 1590.2,400.1 1590.6,392.2 1591.0,384.2 1591.4,376.2 1591.9,368.1 1592.3,360.0 1592.7,351.8 1593.1,343.6 1593.5,335.3 1594.0,327.1 1594.4,318.8 1594.8,310.5 1595.2,302.3 1595.6,294.1 1596.1,285.9 1596.5,277.8 1596.9,269.7 1597.3,261.7 1597.7,253.7 1598.2,245.8 1598.6,238.1 1599.0,230.4 1599.4,222.8 1599.8,215.4 1600.3,208.1 1600.7,200.9 1601.1,193.9 1601.5,187.0 1601.9,180.4 1602.4,173.8 1602.8,167.5 1603.2,161.4 1603.6,155.5 1604.0,149.8 1604.4,144.3 1604.9,139.1 1605.3,134.1 1605.7,129.3 1606.1,124.9 1606.5,120.7 1607.0,116.8 1607.4,113.1 1607.8,109.8 1608.2,106.8 1608.6,104.1 1609.1,101.8 1609.5,99.8 1609.9,98.1 1610.3,96.8 1610.7,95.9 1611.2,95.4 1611.6,95.2 1612.0,95.5 1612.4,96.1 1612.8,97.0 1613.3,98.3 1613.7,100.0 1614.1,102.0 1614.5,104.3 1614.9,106.9 1615.4,109.8 1615.8,113.1 1616.2,116.6 1616.6,120.4 1617.0,124.4 1617.5,128.7 1617.9,133.3 1618.3,138.1 1618.7,143.2 1619.1,148.5 1619.5,154.0 1620.0,159.7 1620.4,165.6 1620.8,171.7 1621.2,177.9 1621.6,184.4 1622.1,191.0 1622.5,197.8 1622.9,204.7 1623.3,211.7 1623.7,218.9 1624.2,226.2 1624.6,233.6 1625.0,241.1 1625.4,248.8 1625.8,256.4 1626.3,264.2 1626.7,272.0 1627.1,279.9 1627.5,287.9 1627.9,295.8 1628.4,303.8 1628.8,311.9 1629.2,319.9 1629.6,328.0 1630.0,336.0 1630.5,344.0 1630.9,352.0 1631.3,360.0 1631.7,368.0 1632.1,375.8 1632.6,383.7 1633.0,391.4 1633.4,399.1 1633.8,406.7 1634.2,414.2 1634.7,421.6 1635.1,428.9 1635.5,436.1 1635.9,443.2 1636.3,450.1 1636.7,456.8 1637.2,463.4 1637.6,469.9 1638.0,476.2 1638.4,482.2 1638.8,488.1 1639.3,493.8 1639.7,499.3 1640.1,504.6 1640.5,509.7 1640.9,514.5 1641.4,519.0 1641.8,523.4 1642.2,527.4 1642.6,531.2 1643.0,534.7 1643.5,537.9 1643.9,540.8 1644.3,543.4 1644.7,545.7 1645.1,547.7 1645.6,549.4 1646.0,550.7 1646.4,551.6 1646.8,552.2 1647.2,552.4 1647.7,552.3 1648.1,551.7 1648.5,550.8 1648.9,549.5 1649.3,547.8 1649.8,545.8 1650.2,543.5 1650.6,540.8 1651.0,537.8 1651.4,534.5 1651.8,530.9 1652.3,527.0 1652.7,522.9 1653.1,518.4 1653.5,513.7 1653.9,508.7 1654.4,503.5 1654.8,498.0 1655.2,492.4 1655.6,486.5 1656.0,480.4 1656.5,474.1 1656.9,467.6 1657.3,460.9 1657.7,454.1 1658.1,447.1 1658.6,439.9 1659.0,432.6 1659.4,425.2 1659.8,417.7 1660.2,410.0 1660.7,402.3 1661.1,394.4 1661.5,386.5 1661.9,378.5 1662.3,370.4 1662.8,362.3 1663.2,354.1 1663.6,345.9 1664.0,337.7 1664.4,329.5 1664.9,321.2 1665.3,313.0 1665.7,304.7 1666.1,296.5 1666.5,288.3 1666.9,280.1 1667.4,272.0 1667.8,264.0 1668.2,256.0 1668.6,248.1 1669.0,240.3 1669.5,232.6 1669.9,225.0 1670.3,217.5 1670.7,210.2 1671.1,202.9 1671.6,195.8 1672.0,188.9 1672.4,182.1 1672.8,175.6 1673.2,169.1 1673.7,162.9 1674.1,156.9 1674.5,151.1 1674.9,145.5 1675.3,140.1 1675.8,135.0 1676.2,130.2 1676.6,125.6 1677.0,121.2 1677.4,117.1 1677.9,113.4 1678.3,109.9 1678.7,106.7 1679.1,103.8 1679.5,101.3 1680.0,99.1 1680.4,97.2 1680.8,95.7 1681.2,94.6 1681.6,93.8 1682.1,93.4 1682.5,93.4 1682.9,93.9 1683.3,94.6 1683.7,95.8 1684.1,97.4 1684.6,99.3 1685.0,101.6 1685.4,104.2 1685.8,107.1 1686.2,110.4 1686.7,113.9 1687.1,117.8 1687.5,122.0 1687.9,126.5 1688.3,131.2 1688.8,136.2 1689.2,141.4 1689.6,146.9 1690.0,152.6 1690.4,158.5 1690.9,164.7 1691.3,171.1 1691.7,177.6 1692.1,184.3 1692.5,191.2 1693.0,198.3 1693.4,205.5 1693.8,212.9 1694.2,220.4 1694.6,228.0 1695.1,235.7 1695.5,243.6 1695.9,251.5 1696.3,259.5 1696.7,267.6 1697.2,275.8 1697.6,284.0 1698.0,292.2 1698.4,300.5 1698.8,308.8 1699.2,317.1 1699.7,325.4 1700.1,333.8 1700.5,342.1 1700.9,350.3 1701.3,358.6 1701.8,366.8 1702.2,374.9 1702.6,383.0 1703.0,390.9 1703.4,398.8 1703.9,406.7 1704.3,414.4 1704.7,422.0 1705.1,429.4 1705.5,436.7 1706.0,443.9 1706.4,450.9 1706.8,457.8 1707.2,464.5 1707.6,471.0 1708.1,477.3 1708.5,483.4 1708.9,489.3 1709.3,494.9 1709.7,500.3 1710.2,505.5 1710.6,510.4 1711.0,515.1 1711.4,519.5 1711.8,523.5 1712.3,527.3 1712.7,530.8 1713.1,534.0 1713.5,536.9 1713.9,539.4 1714.3,541.6 1714.8,543.4 1715.2,544.8 1715.6,545.9 1716.0,546.6 1716.4,546.9 1716.9,546.8 1717.3,546.3 1717.7,545.5 1718.1,544.3 1718.5,542.7 1719.0,540.8 1719.4,538.6 1719.8,536.1 1720.2,533.2 1720.6,530.1 1721.1,526.6 1721.5,522.9 1721.9,518.9 1722.3,514.6 1722.7,510.1 1723.2,505.3 1723.6,500.3 1724.0,495.0 1724.4,489.5 1724.8,483.9 1725.3,478.0 1725.7,471.9 1726.1,465.6 1726.5,459.2 1726.9,452.5 1727.4,445.8 1727.8,438.8 1728.2,431.8 1728.6,424.6 1729.0,417.3 1729.4,409.8 1729.9,402.3 1730.3,394.6 1730.7,386.9 1731.1,379.1 1731.5,371.3 1732.0,363.3 1732.4,355.4 1732.8,347.3 1733.2,339.3 1733.6,331.2 1734.1,323.1 1734.5,315.0 1734.9,306.9 1735.3,298.9 1735.7,290.8 1736.2,282.8 1736.6,274.8 1737.0,266.9 1737.4,259.0 1737.8,251.2 1738.3,243.4 1738.7,235.8 1739.1,228.2 1739.5,220.8 1739.9,213.4 1740.4,206.2 1740.8,199.1 1741.2,192.2 1741.6,185.3 1742.0,178.7 1742.5,172.2 1742.9,165.9 1743.3,159.8 1743.7,153.9 1744.1,148.1 1744.6,142.6 1745.0,137.3 1745.4,132.2 1745.8,127.4 1746.2,122.8 1746.6,118.5 1747.1,114.5 1747.5,110.7 1747.9,107.2 1748.3,104.0 1748.7,101.0 1749.2,98.4 1749.6,96.2 1750.0,94.2 1750.4,92.6 1750.8,91.3 1751.3,90.4 1751.7,89.9 1752.1,89.7 1752.5,89.9 1752.9,90.5 1753.4,91.5 1753.8,92.8 1754.2,94.5 1754.6,96.6 1755.0,98.9 1755.5,101.6 1755.9,104.7 1756.3,108.0 1756.7,111.6 1757.1,115.6 1757.6,119.8 1758.0,124.2 1758.4,129.0 1758.8,133.9 1759.2,139.2 1759.7,144.6 1760.1,150.3 1760.5,156.2 1760.9,162.3 1761.3,168.6 1761.7,175.1 1762.2,181.7 1762.6,188.6 1763.0,195.6 1763.4,202.7 1763.8,210.0 1764.3,217.3 1764.7,224.9 1765.1,232.5 1765.5,240.2 1765.9,248.0 1766.4,255.9 1766.8,263.9 1767.2,271.9 1767.6,280.0 1768.0,288.1 1768.5,296.3 1768.9,304.5 1769.3,312.7 1769.7,320.9 1770.1,329.1 1770.6,337.3 1771.0,345.4 1771.4,353.6 1771.8,361.7 1772.2,369.7 1772.7,377.7 1773.1,385.6 1773.5,393.4 1773.9,401.2 1774.3,408.8 1774.8,416.3 1775.2,423.7 1775.6,431.0 1776.0,438.2 1776.4,445.2 1776.8,452.0 1777.3,458.7 1777.7,465.2 1778.1,471.6 1778.5,477.7 1778.9,483.6 1779.4,489.3 1779.8,494.8 1780.2,500.1 1780.6,505.1 1781.0,509.9 1781.5,514.4 1781.9,518.6 1782.3,522.6 1782.7,526.3 1783.1,529.6 1783.6,532.7 1784.0,535.4 1784.4,537.9 1784.8,540.0 1785.2,541.7 1785.7,543.1 1786.1,544.1 1786.5,544.8 1786.9,545.0 1787.3,544.9 1787.8,544.4 1788.2,543.6 1788.6,542.3 1789.0,540.8 1789.4,538.9 1789.9,536.6 1790.3,534.1 1790.7,531.2 1791.1,528.0 1791.5,524.5 1791.9,520.8 1792.4,516.7 1792.8,512.4 1793.2,507.9 1793.6,503.0 1794.0,498.0 1794.5,492.7 1794.9,487.2 1795.3,481.5 1795.7,475.5 1796.1,469.4 1796.6,463.1 1797.0,456.6 1797.4,449.9 1797.8,443.1 1798.2,436.2 1798.7,429.0 1799.1,421.8 1799.5,414.4 1799.9,407.0 1800.3,399.4 1800.8,391.7 1801.2,383.9 1801.6,376.1 1802.0,368.2 1802.4,360.2 1802.9,352.2 1803.3,344.1 1803.7,336.0 1804.1,327.9 1804.5,319.8 1805.0,311.6 1805.4,303.5 1805.8,295.3 1806.2,287.2 1806.6,279.2 1807.1,271.1 1807.5,263.1 1807.9,255.2 1808.3,247.3 1808.7,239.6 1809.1,231.9 1809.6,224.2 1810.0,216.7 1810.4,209.3 1810.8,202.1 1811.2,194.9 1811.7,187.9 1812.1,181.1 1812.5,174.4 1812.9,167.8 1813.3,161.5 1813.8,155.3 1814.2,149.3 1814.6,143.5 1815.0,138.0 1815.4,132.6 1815.9,127.5 1816.3,122.6 1816.7,118.0 1817.1,113.6 1817.5,109.5 1818.0,105.7 1818.4,102.1 1818.8,98.9 1819.2,95.9 1819.6,93.2 1820.1,90.9 1820.5,88.9 1820.9,87.3 1821.3,85.9 1821.7,85.0 1822.2,84.4 1822.6,84.2 1823.0,84.3 1823.4,84.9 1823.8,85.8 1824.2,87.1 1824.7,88.7 1825.1,90.7 1825.5,93.0 1825.9,95.7 1826.3,98.6 1826.8,101.9 1827.2,105.4 1827.6,109.3 1828.0,113.4 1828.4,117.8 1828.9,122.5 1829.3,127.4 1829.7,132.6 1830.1,138.0 1830.5,143.6 1831.0,149.5 1831.4,155.5 1831.8,161.8 1832.2,168.2 1832.6,174.8 1833.1,181.6 1833.5,188.5 1833.9,195.6 1834.3,202.9 1834.7,210.2 1835.2,217.7 1835.6,225.3 1836.0,233.1 1836.4,240.9 1836.8,248.8 1837.3,256.7 1837.7,264.8 1838.1,272.9 1838.5,281.1 1838.9,289.3 1839.3,297.5 1839.8,305.7 1840.2,314.0 1840.6,322.3 1841.0,330.6 1841.4,338.8 1841.9,347.0 1842.3,355.2 1842.7,363.4 1843.1,371.5 1843.5,379.6 1844.0,387.6 1844.4,395.5 1844.8,403.3 1845.2,411.0 1845.6,418.6 1846.1,426.1 1846.5,433.5 1846.9,440.7 1847.3,447.8 1847.7,454.8 1848.2,461.6 1848.6,468.2 1849.0,474.6 1849.4,480.9 1849.8,486.9 1850.3,492.8 1850.7,498.4 1851.1,503.8 1851.5,509.0 1851.9,513.9 1852.4,518.6 1852.8,523.0 1853.2,527.2 1853.6,531.0 1854.0,534.6 1854.4,537.9 1854.9,540.8 1855.3,543.5 1855.7,545.8 1856.1,547.8 1856.5,549.5 1857.0,550.8 1857.4,551.7 1857.8,552.2 1858.2,552.4 1858.6,552.2 1859.1,551.6 1859.5,550.7 1859.9,549.4 1860.3,547.7 1860.7,545.7 1861.2,543.4 1861.6,540.7 1862.0,537.7 1862.4,534.5 1862.8,530.9 1863.3,527.0 1863.7,522.9 1864.1,518.5 1864.5,513.8 1864.9,508.8 1865.4,503.7 1865.8,498.2 1866.2,492.6 1866.6,486.7 1867.0,480.7 1867.5,474.4 1867.9,467.9 1868.3,461.3 1868.7,454.5 1869.1,447.5 1869.6,440.4 1870.0,433.1 1870.4,425.6 1870.8,418.1 1871.2,410.4 1871.6,402.6 1872.1,394.7 1872.5,386.7 1872.9,378.6 1873.3,370.5 1873.7,362.3 1874.2,354.0 1874.6,345.6 1875.0,337.2 1875.4,328.8 1875.8,320.4 1876.3,311.9 1876.7,303.5 1877.1,295.0 1877.5,286.6 1877.9,278.2 1878.4,269.8 1878.8,261.4 1879.2,253.1 1879.6,244.8 1880.0,236.6 1880.5,228.5 1880.9,220.4 1881.3,212.5 1881.7,204.6 1882.1,196.9 1882.6,189.2 1883.0,181.7 1883.4,174.3 1883.8,167.1 1884.2,160.0 1884.7,153.1 1885.1,146.3 1885.5,139.8 1885.9,133.4 1886.3,127.2 1886.7,121.2 1887.2,115.4 1887.6,109.9 1888.0,104.5 1888.4,99.4 1888.8,94.6 1889.3,90.0 1889.7,85.7 1890.1,81.7 1890.5,77.9 1890.9,74.4 1891.4,71.3 1891.8,68.4 1892.2,65.9 1892.6,63.7 1893.0,61.8 1893.5,60.3 1893.9,59.1 1894.3,58.3 1894.7,57.8 1895.1,57.8 1895.6,58.0 1896.0,58.4 1896.4,59.1 1896.8,60.1 1897.2,61.3 1897.7,62.7 1898.1,64.4 1898.5,66.3 1898.9,68.4 1899.3,70.8 1899.8,73.4 1900.2,76.2 1900.6,79.3 1901.0,82.5 1901.4,86.1 1901.8,89.8 1902.3,93.7 1902.7,97.9 1903.1,102.3 1903.5,106.8 1903.9,111.6 1904.4,116.7 1904.8,121.9 1905.2,127.3 1905.6,132.9 1906.0,138.7 1906.5,144.8 1906.9,151.0 1907.3,157.4 1907.7,164.0 1908.1,170.8 1908.6,177.8 1909.0,185.0 1909.4,192.4 1909.8,200.0 1910.2,207.7 1910.7,215.6 1911.1,223.7 1911.5,232.0 1911.9,240.4 1912.3,249.1 1912.8,257.8 1913.2,266.8 1913.6,275.9 1914.0,285.2 1914.4,294.7 1914.9,304.3 1915.3,314.1 1915.7,324.0 1916.1,334.1 1916.5,344.4 1917.0,354.7 1917.4,365.3 1917.8,376.0 1918.2,386.8 1918.6,397.8 1919.0,408.9 1919.5,420.2 1919.9,431.6 1920.3,443.1 1920.7,454.8 1921.1,466.6 1921.6,478.6 1922.0,490.6 1922.4,502.8 1922.8,515.1 1923.2,527.6 1923.7,540.1" class="curve" style="stroke:#147814"/>
<path d="M1401 46.9V558.5M1472.4 46.9V558.5M1339.2 69.4H1395M1478.4 69.4H1533.7" class="blue" style="stroke:#1c1ce6"/>
<path d="M1399.7 69.4L1391.7 64.8L1391.7 74Z" class="bluef" style="fill:#1c1ce6"/>
<path d="M1473.7 69.4L1481.7 64.8L1481.7 74Z" class="bluef" style="fill:#1c1ce6"/>
<text x="1547" y="73.8" class="ann" style="font-size:41.7px"><tspan class="fi" style="font-size:39.62px">f</tspan><tspan dx="3.13">=</tspan>997.70MHz</text>
<path d="M1232 644.6v-12M1370.82 644.6v-12M1509.64 644.6v-12M1648.45 644.6v-12M1787.27 644.6v-12M1926.09 644.6v-12M1301.41 644.6v-6M1440.23 644.6v-6M1579.05 644.6v-6M1717.86 644.6v-6M1856.68 644.6v-6M1995.5 644.6v-6M1232 644.6h12M1232 521.7h12M1232 398.8h12M1232 275.9h12M1232 153h12M1232 30.1h12M1232 583.15h6M1232 460.25h6M1232 337.35h6M1232 214.45h6M1232 91.55h6" class="tick"/>
<rect x="1232" y="30.1" width="763.5" height="614.5" class="frame"/>
<text transform="translate(1232 693.9) scale(0.96 1)" class="tl tk" text-anchor="middle">0</text>
<text transform="translate(1370.82 693.9) scale(0.96 1)" class="tl tk" text-anchor="middle">2</text>
<text transform="translate(1509.64 693.9) scale(0.96 1)" class="tl tk" text-anchor="middle">4</text>
<text transform="translate(1648.45 693.9) scale(0.96 1)" class="tl tk" text-anchor="middle">6</text>
<text transform="translate(1787.27 693.9) scale(0.96 1)" class="tl tk" text-anchor="middle">8</text>
<text transform="translate(1926.09 693.9) scale(0.96 1)" class="tl tk" text-anchor="middle">10</text>
<text transform="translate(1220.6 659.9) scale(0.96 1)" class="tl tk" text-anchor="end">0</text>
<text transform="translate(1220.6 537) scale(0.96 1)" class="tl tk" text-anchor="end">20</text>
<text transform="translate(1220.6 414.1) scale(0.96 1)" class="tl tk" text-anchor="end">40</text>
<text transform="translate(1220.6 291.2) scale(0.96 1)" class="tl tk" text-anchor="end">60</text>
<text transform="translate(1220.6 168.3) scale(0.96 1)" class="tl tk" text-anchor="end">80</text>
<text transform="translate(1220.6 45.4) scale(0.96 1)" class="tl tk" text-anchor="end">100</text>
</g>
<g id="pc">
<line x1="248.56" y1="844" x2="248.56" y2="1459.8" class="gmin2"/>
<line x1="401.68" y1="844" x2="401.68" y2="1459.8" class="gmin2"/>
<line x1="554.8" y1="844" x2="554.8" y2="1459.8" class="gmin2"/>
<line x1="707.92" y1="844" x2="707.92" y2="1459.8" class="gmin2"/>
<line x1="861.04" y1="844" x2="861.04" y2="1459.8" class="gmin2"/>
<line x1="172" y1="1398.22" x2="937.6" y2="1398.22" class="gmin2"/>
<line x1="172" y1="1275.06" x2="937.6" y2="1275.06" class="gmin2"/>
<line x1="172" y1="1151.9" x2="937.6" y2="1151.9" class="gmin2"/>
<line x1="172" y1="1028.74" x2="937.6" y2="1028.74" class="gmin2"/>
<line x1="172" y1="905.58" x2="937.6" y2="905.58" class="gmin2"/>
<line x1="325.12" y1="844" x2="325.12" y2="1459.8" class="gmaj"/>
<line x1="478.24" y1="844" x2="478.24" y2="1459.8" class="gmaj"/>
<line x1="631.36" y1="844" x2="631.36" y2="1459.8" class="gmaj"/>
<line x1="784.48" y1="844" x2="784.48" y2="1459.8" class="gmaj"/>
<line x1="172" y1="1336.64" x2="937.6" y2="1336.64" class="gmaj"/>
<line x1="172" y1="1213.48" x2="937.6" y2="1213.48" class="gmaj"/>
<line x1="172" y1="1090.32" x2="937.6" y2="1090.32" class="gmaj"/>
<line x1="172" y1="967.16" x2="937.6" y2="967.16" class="gmaj"/>
<polyline points="186.4,1272.0 186.9,1278.0 187.4,1283.7 187.9,1289.2 188.3,1294.4 188.8,1299.3 189.3,1303.9 189.8,1308.1 190.3,1312.0 190.8,1315.6 191.3,1318.8 191.8,1321.6 192.3,1324.1 192.7,1326.1 193.2,1327.7 193.7,1328.9 194.2,1329.6 194.7,1329.9 195.2,1329.5 195.7,1328.3 196.2,1326.2 196.7,1323.4 197.1,1319.8 197.6,1315.5 198.1,1310.5 198.6,1304.9 199.1,1298.7 199.6,1291.9 200.1,1284.5 200.6,1276.7 201.1,1268.3 201.5,1259.6 202.0,1250.4 202.5,1240.9 203.0,1231.0 203.5,1220.8 204.0,1210.4 204.5,1199.7 205.0,1188.9 205.5,1177.9 205.9,1166.7 206.4,1155.5 206.9,1144.2 207.4,1132.9 207.9,1121.6 208.4,1110.4 208.9,1099.2 209.4,1088.2 209.9,1077.3 210.3,1066.6 210.8,1056.1 211.3,1045.9 211.8,1035.9 212.3,1026.3 212.8,1017.1 213.3,1008.3 213.8,999.8 214.3,991.9 214.7,984.4 215.2,977.5 215.7,971.2 216.2,965.4 216.7,960.3 217.2,955.9 217.7,952.1 218.2,949.2 218.7,946.9 219.1,945.5 219.6,945.0 220.1,945.3 220.6,946.5 221.1,948.5 221.6,951.4 222.1,954.9 222.6,959.2 223.1,964.2 223.5,969.9 224.0,976.1 224.5,983.0 225.0,990.4 225.5,998.3 226.0,1006.8 226.5,1015.6 227.0,1024.9 227.5,1034.6 227.9,1044.6 228.4,1054.9 228.9,1065.5 229.4,1076.3 229.9,1087.4 230.4,1098.6 230.9,1110.0 231.4,1121.4 231.9,1133.0 232.3,1144.6 232.8,1156.1 233.3,1167.7 233.8,1179.1 234.3,1190.5 234.8,1201.8 235.3,1212.8 235.8,1223.7 236.3,1234.3 236.7,1244.7 237.2,1254.7 237.7,1264.4 238.2,1273.7 238.7,1282.6 239.2,1291.1 239.7,1299.1 240.2,1306.5 240.7,1313.5 241.1,1319.8 241.6,1325.5 242.1,1330.6 242.6,1334.9 243.1,1338.6 243.6,1341.5 244.1,1343.6 244.6,1344.8 245.1,1345.3 245.5,1344.8 246.0,1343.6 246.5,1341.5 247.0,1338.7 247.5,1335.2 248.0,1331.0 248.5,1326.2 249.0,1320.7 249.5,1314.6 249.9,1308.0 250.4,1300.8 250.9,1293.2 251.4,1285.1 251.9,1276.5 252.4,1267.6 252.9,1258.2 253.4,1248.6 253.9,1238.6 254.3,1228.4 254.8,1217.9 255.3,1207.3 255.8,1196.4 256.3,1185.4 256.8,1174.3 257.3,1163.1 257.8,1151.9 258.3,1140.6 258.7,1129.4 259.2,1118.2 259.7,1107.1 260.2,1096.1 260.7,1085.2 261.2,1074.5 261.7,1064.1 262.2,1053.8 262.7,1043.8 263.1,1034.2 263.6,1024.9 264.1,1015.9 264.6,1007.3 265.1,999.2 265.6,991.5 266.1,984.4 266.6,977.7 267.1,971.6 267.5,966.1 268.0,961.2 268.5,957.0 269.0,953.5 269.5,950.7 270.0,948.6 270.5,947.3 271.0,946.8 271.4,947.2 271.9,948.5 272.4,950.6 272.9,953.4 273.4,957.1 273.9,961.4 274.4,966.5 274.9,972.2 275.4,978.5 275.8,985.4 276.3,992.9 276.8,1000.8 277.3,1009.3 277.8,1018.2 278.3,1027.5 278.8,1037.1 279.3,1047.2 279.8,1057.5 280.2,1068.1 280.7,1078.9 281.2,1089.9 281.7,1101.1 282.2,1112.4 282.7,1123.8 283.2,1135.3 283.7,1146.7 284.2,1158.2 284.6,1169.7 285.1,1181.0 285.6,1192.2 286.1,1203.3 286.6,1214.2 287.1,1224.9 287.6,1235.3 288.1,1245.4 288.6,1255.2 289.0,1264.6 289.5,1273.7 290.0,1282.3 290.5,1290.4 291.0,1298.0 291.5,1305.1 292.0,1311.7 292.5,1317.6 293.0,1322.9 293.4,1327.5 293.9,1331.3 294.4,1334.5 294.9,1336.8 295.4,1338.4 295.9,1339.1 296.4,1338.9 296.9,1337.9 297.4,1336.0 297.8,1333.5 298.3,1330.1 298.8,1326.1 299.3,1321.5 299.8,1316.2 300.3,1310.3 300.8,1303.8 301.3,1296.8 301.8,1289.3 302.2,1281.3 302.7,1273.0 303.2,1264.2 303.7,1255.0 304.2,1245.6 304.7,1235.8 305.2,1225.8 305.7,1215.5 306.2,1205.0 306.6,1194.4 307.1,1183.7 307.6,1172.8 308.1,1161.9 308.6,1151.0 309.1,1140.1 309.6,1129.2 310.1,1118.4 310.6,1107.7 311.0,1097.2 311.5,1086.8 312.0,1076.6 312.5,1066.7 313.0,1057.0 313.5,1047.7 314.0,1038.7 314.5,1030.0 315.0,1021.8 315.4,1014.0 315.9,1006.7 316.4,999.9 316.9,993.7 317.4,988.0 317.9,982.9 318.4,978.5 318.9,974.8 319.4,971.7 319.8,969.4 320.3,967.9 320.8,967.2 321.3,967.3 321.8,968.2 322.3,969.8 322.8,972.2 323.3,975.2 323.8,978.8 324.2,983.1 324.7,987.9 325.2,993.3 325.7,999.2 326.2,1005.7 326.7,1012.6 327.2,1019.9 327.7,1027.7 328.2,1035.8 328.6,1044.3 329.1,1053.2 329.6,1062.3 330.1,1071.7 330.6,1081.3 331.1,1091.2 331.6,1101.2 332.1,1111.4 332.6,1121.7 333.0,1132.1 333.5,1142.5 334.0,1153.0 334.5,1163.5 335.0,1174.0 335.5,1184.4 336.0,1194.8 336.5,1205.1 337.0,1215.2 337.4,1225.1 337.9,1234.9 338.4,1244.4 338.9,1253.7 339.4,1262.7 339.9,1271.4 340.4,1279.7 340.9,1287.7 341.4,1295.2 341.8,1302.4 342.3,1309.1 342.8,1315.3 343.3,1321.0 343.8,1326.2 344.3,1330.7 344.8,1334.7 345.3,1338.1 345.8,1340.8 346.2,1342.8 346.7,1344.1 347.2,1344.6 347.7,1344.4 348.2,1343.3 348.7,1341.3 349.2,1338.6 349.7,1335.1 350.2,1330.9 350.6,1326.0 351.1,1320.4 351.6,1314.2 352.1,1307.5 352.6,1300.2 353.1,1292.4 353.6,1284.1 354.1,1275.4 354.6,1266.3 355.0,1256.8 355.5,1247.0 356.0,1236.9 356.5,1226.5 357.0,1215.9 357.5,1205.1 358.0,1194.2 358.5,1183.1 359.0,1171.9 359.4,1160.8 359.9,1149.5 360.4,1138.4 360.9,1127.2 361.4,1116.2 361.9,1105.3 362.4,1094.6 362.9,1084.0 363.3,1073.7 363.8,1063.7 364.3,1054.0 364.8,1044.6 365.3,1035.6 365.8,1027.0 366.3,1018.9 366.8,1011.2 367.3,1004.1 367.7,997.5 368.2,991.5 368.7,986.2 369.2,981.5 369.7,977.5 370.2,974.2 370.7,971.7 371.2,970.0 371.7,969.1 372.1,969.1 372.6,969.9 373.1,971.4 373.6,973.5 374.1,976.4 374.6,979.9 375.1,984.0 375.6,988.7 376.1,993.9 376.5,999.7 377.0,1006.0 377.5,1012.7 378.0,1019.9 378.5,1027.5 379.0,1035.5 379.5,1043.8 380.0,1052.5 380.5,1061.5 380.9,1070.7 381.4,1080.2 381.9,1089.9 382.4,1099.8 382.9,1109.9 383.4,1120.0 383.9,1130.3 384.4,1140.7 384.9,1151.1 385.3,1161.5 385.8,1171.9 386.3,1182.2 386.8,1192.5 387.3,1202.7 387.8,1212.8 388.3,1222.7 388.8,1232.5 389.3,1242.0 389.7,1251.3 390.2,1260.3 390.7,1269.0 391.2,1277.4 391.7,1285.5 392.2,1293.1 392.7,1300.4 393.2,1307.2 393.7,1313.5 394.1,1319.4 394.6,1324.7 395.1,1329.5 395.6,1333.7 396.1,1337.3 396.6,1340.3 397.1,1342.6 397.6,1344.2 398.1,1345.1 398.5,1345.2 399.0,1344.5 399.5,1342.9 400.0,1340.6 400.5,1337.4 401.0,1333.5 401.5,1329.0 402.0,1323.7 402.5,1317.8 402.9,1311.4 403.4,1304.3 403.9,1296.8 404.4,1288.7 404.9,1280.2 405.4,1271.3 405.9,1262.0 406.4,1252.4 406.9,1242.5 407.3,1232.3 407.8,1221.8 408.3,1211.2 408.8,1200.3 409.3,1189.4 409.8,1178.3 410.3,1167.2 410.8,1156.1 411.3,1145.0 411.7,1133.9 412.2,1122.9 412.7,1112.1 413.2,1101.4 413.7,1090.8 414.2,1080.5 414.7,1070.5 415.2,1060.8 415.7,1051.4 416.1,1042.3 416.6,1033.7 417.1,1025.5 417.6,1017.8 418.1,1010.6 418.6,1004.0 419.1,997.9 419.6,992.4 420.1,987.7 420.5,983.5 421.0,980.2 421.5,977.5 422.0,975.7 422.5,974.7 423.0,974.6 423.5,975.3 424.0,976.7 424.5,978.8 424.9,981.6 425.4,985.0 425.9,989.1 426.4,993.8 426.9,999.0 427.4,1004.8 427.9,1011.1 428.4,1017.8 428.9,1025.0 429.3,1032.7 429.8,1040.7 430.3,1049.1 430.8,1057.8 431.3,1066.8 431.8,1076.0 432.3,1085.6 432.8,1095.3 433.3,1105.2 433.7,1115.2 434.2,1125.4 434.7,1135.7 435.2,1146.1 435.7,1156.4 436.2,1166.8 436.7,1177.2 437.2,1187.5 437.7,1197.7 438.1,1207.8 438.6,1217.8 439.1,1227.6 439.6,1237.2 440.1,1246.5 440.6,1255.7 441.1,1264.5 441.6,1273.0 442.1,1281.1 442.5,1288.9 443.0,1296.3 443.5,1303.2 444.0,1309.6 444.5,1315.6 445.0,1321.1 445.5,1325.9 446.0,1330.2 446.5,1333.9 446.9,1337.0 447.4,1339.4 447.9,1341.0 448.4,1342.0 448.9,1342.2 449.4,1341.6 449.9,1340.3 450.4,1338.2 450.9,1335.5 451.3,1332.2 451.8,1328.2 452.3,1323.7 452.8,1318.5 453.3,1312.9 453.8,1306.7 454.3,1300.1 454.8,1293.0 455.2,1285.6 455.7,1277.7 456.2,1269.5 456.7,1260.9 457.2,1252.0 457.7,1242.9 458.2,1233.6 458.7,1224.0 459.2,1214.2 459.6,1204.3 460.1,1194.3 460.6,1184.1 461.1,1173.9 461.6,1163.7 462.1,1153.5 462.6,1143.2 463.1,1133.1 463.6,1123.0 464.0,1113.0 464.5,1103.1 465.0,1093.4 465.5,1084.0 466.0,1074.7 466.5,1065.7 467.0,1057.0 467.5,1048.5 468.0,1040.5 468.4,1032.8 468.9,1025.5 469.4,1018.6 469.9,1012.2 470.4,1006.2 470.9,1000.8 471.4,995.9 471.9,991.6 472.4,987.9 472.8,984.9 473.3,982.5 473.8,980.7 474.3,979.7 474.8,979.5 475.3,980.1 475.8,981.5 476.3,983.7 476.8,986.7 477.2,990.5 477.7,994.9 478.2,1000.0 478.7,1005.8 479.2,1012.1 479.7,1019.0 480.2,1026.4 480.7,1034.2 481.2,1042.5 481.6,1051.3 482.1,1060.4 482.6,1069.8 483.1,1079.6 483.6,1089.6 484.1,1099.8 484.6,1110.2 485.1,1120.8 485.6,1131.5 486.0,1142.3 486.5,1153.2 487.0,1164.0 487.5,1174.8 488.0,1185.6 488.5,1196.3 489.0,1206.8 489.5,1217.2 490.0,1227.4 490.4,1237.3 490.9,1246.9 491.4,1256.3 491.9,1265.2 492.4,1273.8 492.9,1282.0 493.4,1289.8 493.9,1297.0 494.4,1303.7 494.8,1309.8 495.3,1315.3 495.8,1320.2 496.3,1324.5 496.8,1328.0 497.3,1330.7 497.8,1332.7 498.3,1333.9 498.8,1334.2 499.2,1333.7 499.7,1332.6 500.2,1330.7 500.7,1328.3 501.2,1325.2 501.7,1321.6 502.2,1317.3 502.7,1312.6 503.2,1307.3 503.6,1301.6 504.1,1295.4 504.6,1288.8 505.1,1281.7 505.6,1274.3 506.1,1266.6 506.6,1258.5 507.1,1250.1 507.6,1241.5 508.0,1232.6 508.5,1223.5 509.0,1214.2 509.5,1204.7 510.0,1195.1 510.5,1185.3 511.0,1175.5 511.5,1165.6 512.0,1155.7 512.4,1145.8 512.9,1135.8 513.4,1126.0 513.9,1116.2 514.4,1106.4 514.9,1096.8 515.4,1087.4 515.9,1078.1 516.4,1069.0 516.8,1060.2 517.3,1051.6 517.8,1043.3 518.3,1035.2 518.8,1027.5 519.3,1020.2 519.8,1013.2 520.3,1006.7 520.8,1000.6 521.2,994.9 521.7,989.7 522.2,985.1 522.7,981.0 523.2,977.4 523.7,974.4 524.2,972.1 524.7,970.4 525.2,969.3 525.6,969.0 526.1,969.4 526.6,970.7 527.1,972.7 527.6,975.4 528.1,978.9 528.6,983.0 529.1,987.8 529.6,993.2 530.0,999.1 530.5,1005.6 531.0,1012.6 531.5,1020.1 532.0,1028.0 532.5,1036.4 533.0,1045.1 533.5,1054.2 534.0,1063.5 534.4,1073.2 534.9,1083.1 535.4,1093.2 535.9,1103.5 536.4,1114.0 536.9,1124.5 537.4,1135.2 537.9,1145.8 538.4,1156.6 538.8,1167.3 539.3,1177.9 539.8,1188.5 540.3,1198.9 540.8,1209.2 541.3,1219.3 541.8,1229.2 542.3,1238.9 542.8,1248.3 543.2,1257.3 543.7,1266.1 544.2,1274.4 544.7,1282.3 545.2,1289.8 545.7,1296.8 546.2,1303.3 546.7,1309.3 547.1,1314.7 547.6,1319.5 548.1,1323.6 548.6,1327.1 549.1,1329.8 549.6,1331.9 550.1,1333.1 550.6,1333.6 551.1,1333.2 551.5,1332.1 552.0,1330.3 552.5,1327.9 553.0,1324.7 553.5,1321.0 554.0,1316.6 554.5,1311.7 555.0,1306.3 555.5,1300.3 555.9,1293.9 556.4,1287.0 556.9,1279.7 557.4,1272.0 557.9,1264.0 558.4,1255.6 558.9,1246.9 559.4,1237.9 559.9,1228.7 560.3,1219.2 560.8,1209.6 561.3,1199.8 561.8,1189.8 562.3,1179.8 562.8,1169.6 563.3,1159.4 563.8,1149.2 564.3,1139.1 564.7,1128.9 565.2,1118.8 565.7,1108.8 566.2,1098.9 566.7,1089.2 567.2,1079.6 567.7,1070.3 568.2,1061.2 568.7,1052.4 569.1,1043.8 569.6,1035.6 570.1,1027.7 570.6,1020.2 571.1,1013.1 571.6,1006.5 572.1,1000.3 572.6,994.6 573.1,989.4 573.5,984.8 574.0,980.8 574.5,977.4 575.0,974.6 575.5,972.5 576.0,971.0 576.5,970.3 577.0,970.4 577.5,971.2 577.9,972.8 578.4,975.2 578.9,978.2 579.4,982.0 579.9,986.4 580.4,991.4 580.9,996.9 581.4,1003.1 581.9,1009.7 582.3,1016.8 582.8,1024.4 583.3,1032.4 583.8,1040.8 584.3,1049.6 584.8,1058.6 585.3,1068.0 585.8,1077.7 586.3,1087.5 586.7,1097.6 587.2,1107.8 587.7,1118.2 588.2,1128.7 588.7,1139.3 589.2,1149.9 589.7,1160.5 590.2,1171.1 590.7,1181.6 591.1,1192.1 591.6,1202.5 592.1,1212.7 592.6,1222.7 593.1,1232.5 593.6,1242.1 594.1,1251.4 594.6,1260.4 595.1,1269.0 595.5,1277.3 596.0,1285.2 596.5,1292.7 597.0,1299.7 597.5,1306.2 598.0,1312.1 598.5,1317.6 599.0,1322.4 599.5,1326.6 599.9,1330.2 600.4,1333.0 600.9,1335.2 601.4,1336.6 601.9,1337.2 602.4,1337.0 602.9,1336.1 603.4,1334.4 603.9,1331.9 604.3,1328.7 604.8,1324.9 605.3,1320.4 605.8,1315.4 606.3,1309.7 606.8,1303.5 607.3,1296.8 607.8,1289.6 608.3,1282.0 608.7,1274.0 609.2,1265.5 609.7,1256.7 610.2,1247.6 610.7,1238.2 611.2,1228.5 611.7,1218.6 612.2,1208.5 612.7,1198.2 613.1,1187.8 613.6,1177.2 614.1,1166.6 614.6,1156.0 615.1,1145.3 615.6,1134.7 616.1,1124.1 616.6,1113.5 617.1,1103.1 617.5,1092.9 618.0,1082.8 618.5,1072.9 619.0,1063.2 619.5,1053.9 620.0,1044.8 620.5,1036.0 621.0,1027.6 621.5,1019.6 621.9,1012.0 622.4,1004.9 622.9,998.3 623.4,992.1 623.9,986.6 624.4,981.6 624.9,977.2 625.4,973.4 625.9,970.3 626.3,968.0 626.8,966.3 627.3,965.5 627.8,965.4 628.3,966.1 628.8,967.5 629.3,969.6 629.8,972.4 630.3,975.8 630.7,979.9 631.2,984.5 631.7,989.7 632.2,995.4 632.7,1001.7 633.2,1008.4 633.7,1015.5 634.2,1023.1 634.7,1031.1 635.1,1039.4 635.6,1048.0 636.1,1057.0 636.6,1066.2 637.1,1075.7 637.6,1085.4 638.1,1095.2 638.6,1105.3 639.0,1115.4 639.5,1125.7 640.0,1136.1 640.5,1146.5 641.0,1156.9 641.5,1167.3 642.0,1177.6 642.5,1187.9 643.0,1198.1 643.4,1208.2 643.9,1218.1 644.4,1227.8 644.9,1237.3 645.4,1246.6 645.9,1255.6 646.4,1264.4 646.9,1272.8 647.4,1280.8 647.8,1288.5 648.3,1295.7 648.8,1302.5 649.3,1308.9 649.8,1314.7 650.3,1320.0 650.8,1324.8 651.3,1329.0 651.8,1332.6 652.2,1335.5 652.7,1337.8 653.2,1339.3 653.7,1340.2 654.2,1340.3 654.7,1339.5 655.2,1337.9 655.7,1335.4 656.2,1332.2 656.6,1328.2 657.1,1323.6 657.6,1318.2 658.1,1312.2 658.6,1305.6 659.1,1298.5 659.6,1290.8 660.1,1282.6 660.6,1274.0 661.0,1264.9 661.5,1255.5 662.0,1245.7 662.5,1235.6 663.0,1225.2 663.5,1214.5 664.0,1203.7 664.5,1192.7 665.0,1181.6 665.4,1170.4 665.9,1159.1 666.4,1147.7 666.9,1136.4 667.4,1125.2 667.9,1114.0 668.4,1103.0 668.9,1092.1 669.4,1081.4 669.8,1070.9 670.3,1060.7 670.8,1050.8 671.3,1041.2 671.8,1032.0 672.3,1023.2 672.8,1014.8 673.3,1006.9 673.8,999.6 674.2,992.8 674.7,986.5 675.2,980.9 675.7,976.0 676.2,971.8 676.7,968.3 677.2,965.5 677.7,963.6 678.2,962.5 678.6,962.3 679.1,962.9 679.6,964.2 680.1,966.4 680.6,969.2 681.1,972.7 681.6,976.9 682.1,981.7 682.6,987.1 683.0,993.1 683.5,999.6 684.0,1006.6 684.5,1014.0 685.0,1021.9 685.5,1030.2 686.0,1038.9 686.5,1047.9 687.0,1057.3 687.4,1066.9 687.9,1076.8 688.4,1086.9 688.9,1097.2 689.4,1107.7 689.9,1118.3 690.4,1129.0 690.9,1139.8 691.4,1150.6 691.8,1161.4 692.3,1172.2 692.8,1182.9 693.3,1193.6 693.8,1204.1 694.3,1214.5 694.8,1224.8 695.3,1234.8 695.8,1244.6 696.2,1254.1 696.7,1263.3 697.2,1272.2 697.7,1280.7 698.2,1288.9 698.7,1296.6 699.2,1303.9 699.7,1310.7 700.2,1316.9 700.6,1322.7 701.1,1327.8 701.6,1332.4 702.1,1336.3 702.6,1339.5 703.1,1342.1 703.6,1343.9 704.1,1345.0 704.6,1345.3 705.0,1344.7 705.5,1343.4 706.0,1341.4 706.5,1338.7 707.0,1335.2 707.5,1331.2 708.0,1326.5 708.5,1321.2 709.0,1315.4 709.4,1309.0 709.9,1302.2 710.4,1294.9 710.9,1287.1 711.4,1278.9 711.9,1270.4 712.4,1261.5 712.9,1252.3 713.4,1242.8 713.8,1233.1 714.3,1223.1 714.8,1213.0 715.3,1202.7 715.8,1192.2 716.3,1181.6 716.8,1171.0 717.3,1160.3 717.8,1149.7 718.2,1139.0 718.7,1128.4 719.2,1117.9 719.7,1107.4 720.2,1097.1 720.7,1087.0 721.2,1077.1 721.7,1067.4 722.2,1058.0 722.6,1048.9 723.1,1040.1 723.6,1031.6 724.1,1023.5 724.6,1015.9 725.1,1008.7 725.6,1001.9 726.1,995.7 726.6,990.0 727.0,984.8 727.5,980.3 728.0,976.3 728.5,973.1 729.0,970.5 729.5,968.6 730.0,967.5 730.5,967.2 730.9,967.7 731.4,969.0 731.9,971.2 732.4,974.1 732.9,977.8 733.4,982.2 733.9,987.2 734.4,992.9 734.9,999.2 735.3,1006.1 735.8,1013.5 736.3,1021.3 736.8,1029.7 737.3,1038.4 737.8,1047.6 738.3,1057.1 738.8,1066.9 739.3,1077.0 739.7,1087.3 740.2,1097.9 740.7,1108.6 741.2,1119.4 741.7,1130.4 742.2,1141.4 742.7,1152.5 743.2,1163.5 743.7,1174.5 744.1,1185.4 744.6,1196.3 745.1,1206.9 745.6,1217.4 746.1,1227.7 746.6,1237.7 747.1,1247.4 747.6,1256.8 748.1,1265.8 748.5,1274.4 749.0,1282.6 749.5,1290.3 750.0,1297.6 750.5,1304.2 751.0,1310.3 751.5,1315.8 752.0,1320.7 752.5,1324.8 752.9,1328.3 753.4,1331.0 753.9,1332.9 754.4,1333.9 754.9,1334.2 755.4,1333.6 755.9,1332.3 756.4,1330.4 756.9,1327.8 757.3,1324.6 757.8,1320.8 758.3,1316.4 758.8,1311.4 759.3,1306.0 759.8,1300.1 760.3,1293.6 760.8,1286.8 761.3,1279.6 761.7,1271.9 762.2,1264.0 762.7,1255.7 763.2,1247.1 763.7,1238.2 764.2,1229.1 764.7,1219.7 765.2,1210.2 765.7,1200.5 766.1,1190.7 766.6,1180.8 767.1,1170.7 767.6,1160.7 768.1,1150.6 768.6,1140.5 769.1,1130.4 769.6,1120.4 770.1,1110.5 770.5,1100.6 771.0,1091.0 771.5,1081.4 772.0,1072.1 772.5,1063.0 773.0,1054.1 773.5,1045.5 774.0,1037.2 774.5,1029.2 774.9,1021.6 775.4,1014.4 775.9,1007.6 776.4,1001.2 776.9,995.2 777.4,989.8 777.9,984.9 778.4,980.5 778.9,976.7 779.3,973.5 779.8,970.9 780.3,969.0 780.8,967.7 781.3,967.2 781.8,967.4 782.3,968.5 782.8,970.4 783.3,973.1 783.7,976.5 784.2,980.6 784.7,985.5 785.2,990.9 785.7,997.0 786.2,1003.7 786.7,1010.8 787.2,1018.5 787.7,1026.7 788.1,1035.2 788.6,1044.2 789.1,1053.5 789.6,1063.2 790.1,1073.1 790.6,1083.3 791.1,1093.8 791.6,1104.3 792.1,1115.1 792.5,1125.9 793.0,1136.9 793.5,1147.8 794.0,1158.8 794.5,1169.8 795.0,1180.6 795.5,1191.4 796.0,1202.1 796.5,1212.5 796.9,1222.8 797.4,1232.8 797.9,1242.6 798.4,1252.0 798.9,1261.1 799.4,1269.8 799.9,1278.0 800.4,1285.9 800.9,1293.2 801.3,1300.0 801.8,1306.2 802.3,1311.9 802.8,1316.9 803.3,1321.2 803.8,1324.9 804.3,1327.8 804.8,1329.9 805.3,1331.2 805.7,1331.7 806.2,1331.4 806.7,1330.2 807.2,1328.4 807.7,1325.8 808.2,1322.5 808.7,1318.6 809.2,1314.1 809.7,1309.0 810.1,1303.3 810.6,1297.1 811.1,1290.4 811.6,1283.3 812.1,1275.6 812.6,1267.6 813.1,1259.2 813.6,1250.5 814.1,1241.4 814.5,1232.1 815.0,1222.5 815.5,1212.6 816.0,1202.6 816.5,1192.4 817.0,1182.1 817.5,1171.6 818.0,1161.1 818.5,1150.5 818.9,1139.9 819.4,1129.3 819.9,1118.8 820.4,1108.3 820.9,1098.0 821.4,1087.7 821.9,1077.7 822.4,1067.8 822.8,1058.1 823.3,1048.7 823.8,1039.6 824.3,1030.8 824.8,1022.3 825.3,1014.2 825.8,1006.6 826.3,999.3 826.8,992.5 827.2,986.2 827.7,980.4 828.2,975.2 828.7,970.6 829.2,966.6 829.7,963.2 830.2,960.5 830.7,958.5 831.2,957.2 831.6,956.7 832.1,957.0 832.6,958.1 833.1,960.0 833.6,962.7 834.1,966.0 834.6,970.1 835.1,974.8 835.6,980.1 836.0,986.0 836.5,992.4 837.0,999.4 837.5,1006.8 838.0,1014.7 838.5,1023.0 839.0,1031.7 839.5,1040.8 840.0,1050.2 840.4,1059.8 840.9,1069.7 841.4,1079.9 841.9,1090.2 842.4,1100.7 842.9,1111.3 843.4,1121.9 843.9,1132.7 844.4,1143.4 844.8,1154.2 845.3,1164.9 845.8,1175.5 846.3,1186.1 846.8,1196.4 847.3,1206.6 847.8,1216.6 848.3,1226.4 848.8,1235.9 849.2,1245.0 849.7,1253.8 850.2,1262.3 850.7,1270.3 851.2,1277.9 851.7,1285.1 852.2,1291.7 852.7,1297.8 853.2,1303.3 853.6,1308.2 854.1,1312.5 854.6,1316.1 855.1,1319.0 855.6,1321.1 856.1,1322.5 856.6,1323.1 857.1,1322.8 857.6,1321.9 858.0,1320.2 858.5,1317.8 859.0,1314.7 859.5,1311.0 860.0,1306.7 860.5,1301.9 861.0,1296.4 861.5,1290.5 862.0,1284.0 862.4,1277.1 862.9,1269.8 863.4,1262.1 863.9,1254.0 864.4,1245.5 864.9,1236.7 865.4,1227.6 865.9,1218.3 866.4,1208.7 866.8,1199.0 867.3,1189.0 867.8,1178.9 868.3,1168.7 868.8,1158.4 869.3,1148.0 869.8,1137.6 870.3,1127.2 870.8,1116.8 871.2,1106.5 871.7,1096.3 872.2,1086.1 872.7,1076.1 873.2,1066.3 873.7,1056.7 874.2,1047.3 874.7,1038.1 875.2,1029.3 875.6,1020.7 876.1,1012.5 876.6,1004.7 877.1,997.2 877.6,990.2 878.1,983.6 878.6,977.5 879.1,972.0 879.6,967.0 880.0,962.5 880.5,958.6 881.0,955.4 881.5,952.8 882.0,950.9 882.5,949.7 883.0,949.3 883.5,949.7 884.0,950.9 884.4,952.8 884.9,955.6 885.4,959.1 885.9,963.2 886.4,968.1 886.9,973.5 887.4,979.6 887.9,986.2 888.4,993.4 888.8,1001.0 889.3,1009.1 889.8,1017.7 890.3,1026.6 890.8,1035.9 891.3,1045.5 891.8,1055.4 892.3,1065.6 892.8,1076.0 893.2,1086.6 893.7,1097.4 894.2,1108.3 894.7,1119.2 895.2,1130.3 895.7,1141.4 896.2,1152.4 896.7,1163.5 897.2,1174.4 897.6,1185.3 898.1,1196.0 898.6,1206.5 899.1,1216.9 899.6,1227.0 900.1,1236.8 900.6,1246.3 901.1,1255.5 901.6,1264.3 902.0,1272.7 902.5,1280.7 903.0,1288.2 903.5,1295.1 904.0,1301.6 904.5,1307.5 905.0,1312.7 905.5,1317.3 906.0,1321.3 906.4,1324.5 906.9,1327.0 907.4,1328.8 907.9,1329.7 908.4,1329.8 908.9,1329.1 909.4,1327.7 909.9,1325.5 910.4,1322.6 910.8,1319.1 911.3,1314.9 911.8,1310.1 912.3,1304.7 912.8,1298.8 913.3,1292.3 913.8,1285.3 914.3,1277.8 914.7,1269.9 915.2,1261.6 915.7,1252.9 916.2,1243.8 916.7,1234.4 917.2,1224.7 917.7,1214.7 918.2,1204.5 918.7,1194.0 919.1,1183.3" class="curve" style="stroke:#147814"/>
<path d="M321 880.6V1361.4M372 880.6V1361.4M238.3 908.4H315M378 908.4H454.5" class="blue" style="stroke:#2020d0"/>
<path d="M319.7 908.4L312.2 903.9L312.2 912.9Z" class="bluef" style="fill:#2020d0"/>
<path d="M373.3 908.4L380.8 903.9L380.8 912.9Z" class="bluef" style="fill:#2020d0"/>
<text x="461.3" y="913.8" class="ann" style="font-size:41.7px"><tspan class="fi" style="font-size:39.62px">f</tspan><tspan dx="3.13">=</tspan>1501.36MHz</text>
<path d="M172 1459.8v-12M325.12 1459.8v-12M478.24 1459.8v-12M631.36 1459.8v-12M784.48 1459.8v-12M937.6 1459.8v-12M248.56 1459.8v-6M401.68 1459.8v-6M554.8 1459.8v-6M707.92 1459.8v-6M861.04 1459.8v-6M172 1459.8h12M172 1336.64h12M172 1213.48h12M172 1090.32h12M172 967.16h12M172 844h12M172 1398.22h6M172 1275.06h6M172 1151.9h6M172 1028.74h6M172 905.58h6" class="tick"/>
<rect x="172" y="844" width="765.6" height="615.8" class="frame"/>
<text transform="translate(172 1509.1) scale(0.96 1)" class="tl tk" text-anchor="middle">0</text>
<text transform="translate(325.12 1509.1) scale(0.96 1)" class="tl tk" text-anchor="middle">2</text>
<text transform="translate(478.24 1509.1) scale(0.96 1)" class="tl tk" text-anchor="middle">4</text>
<text transform="translate(631.36 1509.1) scale(0.96 1)" class="tl tk" text-anchor="middle">6</text>
<text transform="translate(784.48 1509.1) scale(0.96 1)" class="tl tk" text-anchor="middle">8</text>
<text transform="translate(937.6 1509.1) scale(0.96 1)" class="tl tk" text-anchor="middle">10</text>
<text transform="translate(160.6 1475.1) scale(0.96 1)" class="tl tk" text-anchor="end">0</text>
<text transform="translate(160.6 1351.94) scale(0.96 1)" class="tl tk" text-anchor="end">20</text>
<text transform="translate(160.6 1228.78) scale(0.96 1)" class="tl tk" text-anchor="end">40</text>
<text transform="translate(160.6 1105.62) scale(0.96 1)" class="tl tk" text-anchor="end">60</text>
<text transform="translate(160.6 982.46) scale(0.96 1)" class="tl tk" text-anchor="end">80</text>
<text transform="translate(160.6 859.3) scale(0.96 1)" class="tl tk" text-anchor="end">100</text>
</g>
<g id="pd">
<line x1="1273.89" y1="844.6" x2="1273.89" y2="1459.5" class="gmin2"/>
<line x1="1426.87" y1="844.6" x2="1426.87" y2="1459.5" class="gmin2"/>
<line x1="1579.85" y1="844.6" x2="1579.85" y2="1459.5" class="gmin2"/>
<line x1="1732.83" y1="844.6" x2="1732.83" y2="1459.5" class="gmin2"/>
<line x1="1885.81" y1="844.6" x2="1885.81" y2="1459.5" class="gmin2"/>
<line x1="1197.4" y1="1459.5" x2="1962.3" y2="1459.5" class="gmin2"/>
<line x1="1197.4" y1="1347.7" x2="1962.3" y2="1347.7" class="gmin2"/>
<line x1="1197.4" y1="1235.9" x2="1962.3" y2="1235.9" class="gmin2"/>
<line x1="1197.4" y1="1124.1" x2="1962.3" y2="1124.1" class="gmin2"/>
<line x1="1197.4" y1="1012.3" x2="1962.3" y2="1012.3" class="gmin2"/>
<line x1="1197.4" y1="900.5" x2="1962.3" y2="900.5" class="gmin2"/>
<line x1="1350.38" y1="844.6" x2="1350.38" y2="1459.5" class="gmaj"/>
<line x1="1503.36" y1="844.6" x2="1503.36" y2="1459.5" class="gmaj"/>
<line x1="1656.34" y1="844.6" x2="1656.34" y2="1459.5" class="gmaj"/>
<line x1="1809.32" y1="844.6" x2="1809.32" y2="1459.5" class="gmaj"/>
<line x1="1197.4" y1="1403.6" x2="1962.3" y2="1403.6" class="gmaj"/>
<line x1="1197.4" y1="1291.8" x2="1962.3" y2="1291.8" class="gmaj"/>
<line x1="1197.4" y1="1180" x2="1962.3" y2="1180" class="gmaj"/>
<line x1="1197.4" y1="1068.2" x2="1962.3" y2="1068.2" class="gmaj"/>
<line x1="1197.4" y1="956.4" x2="1962.3" y2="956.4" class="gmaj"/>
<polyline points="1235.1,1258.8 1235.6,1241.0 1236.0,1223.7 1236.5,1206.7 1236.9,1190.3 1237.4,1174.5 1237.8,1159.2 1238.3,1144.5 1238.7,1130.4 1239.2,1117.1 1239.7,1104.5 1240.1,1092.6 1240.6,1081.5 1241.0,1071.3 1241.5,1062.0 1241.9,1053.5 1242.4,1046.0 1242.8,1038.6 1243.3,1031.2 1243.8,1023.9 1244.2,1016.9 1244.7,1010.3 1245.1,1004.1 1245.6,998.5 1246.0,993.5 1246.5,989.4 1246.9,986.1 1247.4,983.9 1247.8,982.8 1248.3,983.0 1248.8,985.2 1249.2,989.2 1249.7,994.9 1250.1,1002.0 1250.6,1010.3 1251.0,1019.7 1251.5,1029.9 1251.9,1040.7 1252.4,1052.0 1252.8,1063.5 1253.3,1075.1 1253.8,1086.4 1254.2,1097.4 1254.7,1107.9 1255.1,1118.6 1255.6,1130.6 1256.0,1143.7 1256.5,1157.9 1256.9,1172.9 1257.4,1188.6 1257.8,1204.8 1258.3,1221.5 1258.8,1238.3 1259.2,1255.2 1259.7,1272.1 1260.1,1288.7 1260.6,1304.9 1261.0,1320.6 1261.5,1335.6 1261.9,1349.7 1262.4,1362.8 1262.9,1374.7 1263.3,1385.4 1263.8,1394.5 1264.2,1402.0 1264.7,1407.8 1265.1,1411.6 1265.6,1413.3 1266.0,1413.0 1266.5,1411.4 1266.9,1408.6 1267.4,1404.5 1267.9,1399.4 1268.3,1393.2 1268.8,1386.0 1269.2,1377.9 1269.7,1369.0 1270.1,1359.3 1270.6,1348.8 1271.0,1337.7 1271.5,1326.1 1271.9,1313.9 1272.4,1301.2 1272.9,1288.2 1273.3,1274.8 1273.8,1261.1 1274.2,1247.3 1274.7,1233.3 1275.1,1219.3 1275.6,1205.3 1276.0,1191.3 1276.5,1177.5 1277.0,1163.9 1277.4,1150.5 1277.9,1137.5 1278.3,1124.9 1278.8,1112.7 1279.2,1101.0 1279.7,1090.0 1280.1,1078.5 1280.6,1065.5 1281.0,1051.5 1281.5,1037.1 1282.0,1022.8 1282.4,1009.0 1282.9,996.2 1283.3,985.0 1283.8,975.9 1284.2,969.3 1284.7,965.8 1285.1,965.7 1285.6,968.0 1286.0,972.1 1286.5,977.4 1287.0,983.3 1287.4,989.2 1287.9,995.5 1288.3,1003.0 1288.8,1011.8 1289.2,1021.6 1289.7,1032.5 1290.1,1044.3 1290.6,1056.9 1291.1,1070.2 1291.5,1084.2 1292.0,1098.8 1292.4,1113.9 1292.9,1129.4 1293.3,1145.2 1293.8,1161.2 1294.2,1177.3 1294.7,1193.5 1295.1,1209.6 1295.6,1225.7 1296.1,1241.5 1296.5,1257.0 1297.0,1272.1 1297.4,1286.8 1297.9,1300.9 1298.3,1314.3 1298.8,1327.1 1299.2,1338.9 1299.7,1349.9 1300.1,1359.9 1300.6,1368.8 1301.1,1376.6 1301.5,1383.0 1302.0,1388.2 1302.4,1391.9 1302.9,1394.1 1303.3,1394.6 1303.8,1393.9 1304.2,1392.2 1304.7,1389.4 1305.1,1385.6 1305.6,1381.0 1306.1,1375.4 1306.5,1369.1 1307.0,1362.0 1307.4,1354.1 1307.9,1345.6 1308.3,1336.5 1308.8,1326.8 1309.2,1316.5 1309.7,1305.8 1310.2,1294.6 1310.6,1283.1 1311.1,1271.2 1311.5,1259.0 1312.0,1246.6 1312.4,1234.0 1312.9,1221.3 1313.3,1208.5 1313.8,1195.6 1314.2,1182.7 1314.7,1169.9 1315.2,1157.2 1315.6,1144.6 1316.1,1132.2 1316.5,1120.0 1317.0,1108.2 1317.4,1096.7 1317.9,1085.6 1318.3,1074.9 1318.8,1064.7 1319.2,1055.0 1319.7,1045.9 1320.2,1037.5 1320.6,1029.7 1321.1,1022.6 1321.5,1016.3 1322.0,1010.9 1322.4,1005.8 1322.9,1000.5 1323.3,995.3 1323.8,990.7 1324.3,986.8 1324.7,984.1 1325.2,982.7 1325.6,983.1 1326.1,984.9 1326.5,988.3 1327.0,993.0 1327.4,999.0 1327.9,1006.2 1328.3,1014.6 1328.8,1024.0 1329.3,1034.3 1329.7,1045.6 1330.2,1057.7 1330.6,1070.4 1331.1,1083.9 1331.5,1097.9 1332.0,1112.4 1332.4,1127.3 1332.9,1142.5 1333.3,1157.9 1333.8,1173.6 1334.3,1189.2 1334.7,1204.9 1335.2,1220.5 1335.6,1236.0 1336.1,1251.2 1336.5,1266.0 1337.0,1280.5 1337.4,1294.5 1337.9,1307.9 1338.4,1320.6 1338.8,1332.6 1339.3,1343.8 1339.7,1354.1 1340.2,1363.4 1340.6,1371.7 1341.1,1378.8 1341.5,1384.7 1342.0,1389.3 1342.4,1392.6 1342.9,1394.3 1343.4,1394.5 1343.8,1392.8 1344.3,1389.1 1344.7,1383.5 1345.2,1376.3 1345.6,1367.6 1346.1,1357.4 1346.5,1345.9 1347.0,1333.2 1347.4,1319.5 1347.9,1304.9 1348.4,1289.4 1348.8,1273.3 1349.3,1256.7 1349.7,1239.7 1350.2,1222.3 1350.6,1204.9 1351.1,1187.3 1351.5,1169.9 1352.0,1152.7 1352.4,1135.9 1352.9,1119.5 1353.4,1103.8 1353.8,1088.8 1354.3,1074.6 1354.7,1061.4 1355.2,1049.4 1355.6,1038.6 1356.1,1029.2 1356.5,1021.2 1357.0,1014.9 1357.5,1010.4 1357.9,1007.2 1358.4,1004.1 1358.8,1001.1 1359.3,998.3 1359.7,995.6 1360.2,993.1 1360.6,990.9 1361.1,988.9 1361.5,987.3 1362.0,986.0 1362.5,985.0 1362.9,984.5 1363.4,984.4 1363.8,985.8 1364.3,988.9 1364.7,993.5 1365.2,999.5 1365.6,1007.0 1366.1,1015.7 1366.5,1025.6 1367.0,1036.6 1367.5,1048.5 1367.9,1061.4 1368.4,1075.1 1368.8,1089.4 1369.3,1104.4 1369.7,1119.8 1370.2,1135.7 1370.6,1151.9 1371.1,1168.3 1371.6,1184.8 1372.0,1201.4 1372.5,1217.9 1372.9,1234.2 1373.4,1250.3 1373.8,1266.0 1374.3,1281.3 1374.7,1296.0 1375.2,1310.1 1375.6,1323.4 1376.1,1335.9 1376.6,1347.4 1377.0,1358.0 1377.5,1367.4 1377.9,1375.6 1378.4,1382.4 1378.8,1387.9 1379.3,1391.9 1379.7,1394.2 1380.2,1394.9 1380.6,1394.0 1381.1,1392.0 1381.6,1388.7 1382.0,1384.3 1382.5,1378.8 1382.9,1372.2 1383.4,1364.8 1383.8,1356.4 1384.3,1347.2 1384.7,1337.3 1385.2,1326.6 1385.7,1315.3 1386.1,1303.4 1386.6,1291.0 1387.0,1278.1 1387.5,1264.9 1387.9,1251.3 1388.4,1237.4 1388.8,1223.3 1389.3,1209.1 1389.7,1194.8 1390.2,1180.4 1390.7,1166.1 1391.1,1151.9 1391.6,1137.9 1392.0,1124.1 1392.5,1110.5 1392.9,1097.4 1393.4,1084.6 1393.8,1072.3 1394.3,1060.5 1394.7,1049.3 1395.2,1038.8 1395.7,1029.0 1396.1,1019.9 1396.6,1011.8 1397.0,1004.5 1397.5,998.2 1397.9,992.9 1398.4,988.7 1398.8,985.6 1399.3,983.8 1399.7,983.2 1400.2,984.9 1400.7,988.8 1401.1,994.2 1401.6,1000.3 1402.0,1006.3 1402.5,1011.5 1402.9,1015.1 1403.4,1017.8 1403.8,1020.2 1404.3,1022.3 1404.8,1024.2 1405.2,1026.0 1405.7,1027.9 1406.1,1030.0 1406.6,1032.3 1407.0,1035.0 1407.5,1038.2 1407.9,1042.6 1408.4,1049.1 1408.8,1057.8 1409.3,1068.5 1409.8,1080.8 1410.2,1094.6 1410.7,1109.8 1411.1,1126.1 1411.6,1143.3 1412.0,1161.3 1412.5,1179.8 1412.9,1198.6 1413.4,1217.5 1413.8,1236.4 1414.3,1255.0 1414.8,1273.1 1415.2,1290.6 1415.7,1307.2 1416.1,1322.8 1416.6,1337.1 1417.0,1349.9 1417.5,1361.1 1417.9,1370.5 1418.4,1377.8 1418.9,1382.8 1419.3,1385.4 1419.8,1385.6 1420.2,1384.4 1420.7,1382.2 1421.1,1378.9 1421.6,1374.6 1422.0,1369.4 1422.5,1363.3 1422.9,1356.4 1423.4,1348.7 1423.9,1340.2 1424.3,1331.1 1424.8,1321.4 1425.2,1311.1 1425.7,1300.3 1426.1,1289.0 1426.6,1277.3 1427.0,1265.2 1427.5,1252.9 1427.9,1240.2 1428.4,1227.4 1428.9,1214.4 1429.3,1201.3 1429.8,1188.1 1430.2,1174.9 1430.7,1161.8 1431.1,1148.8 1431.6,1136.0 1432.0,1123.3 1432.5,1110.9 1433.0,1098.8 1433.4,1087.1 1433.9,1075.8 1434.3,1065.0 1434.8,1054.7 1435.2,1044.9 1435.7,1035.8 1436.1,1027.3 1436.6,1019.6 1437.0,1012.6 1437.5,1006.5 1438.0,1001.3 1438.4,996.9 1438.9,993.6 1439.3,991.3 1439.8,990.1 1440.2,990.2 1440.7,992.4 1441.1,996.7 1441.6,1003.1 1442.0,1011.4 1442.5,1021.4 1443.0,1032.9 1443.4,1045.9 1443.9,1060.1 1444.3,1075.4 1444.8,1091.7 1445.2,1108.8 1445.7,1126.4 1446.1,1144.6 1446.6,1163.1 1447.0,1181.8 1447.5,1200.5 1448.0,1219.0 1448.4,1237.3 1448.9,1255.1 1449.3,1272.3 1449.8,1288.7 1450.2,1304.3 1450.7,1318.8 1451.1,1332.0 1451.6,1343.9 1452.1,1354.3 1452.5,1363.0 1453.0,1369.8 1453.4,1374.6 1453.9,1377.4 1454.3,1377.9 1454.8,1377.9 1455.2,1377.9 1455.7,1377.9 1456.1,1377.9 1456.6,1377.9 1457.1,1377.9 1457.5,1377.9 1458.0,1377.9 1458.4,1377.9 1458.9,1377.9 1459.3,1377.9 1459.8,1377.9 1460.2,1377.9 1460.7,1377.9 1461.1,1377.8 1461.6,1376.3 1462.1,1373.3 1462.5,1368.8 1463.0,1362.9 1463.4,1355.6 1463.9,1347.2 1464.3,1337.6 1464.8,1327.1 1465.2,1315.5 1465.7,1303.2 1466.2,1290.1 1466.6,1276.4 1467.1,1262.1 1467.5,1247.4 1468.0,1232.3 1468.4,1217.0 1468.9,1201.5 1469.3,1185.9 1469.8,1170.3 1470.2,1154.8 1470.7,1139.6 1471.2,1124.6 1471.6,1110.1 1472.1,1096.0 1472.5,1082.5 1473.0,1069.7 1473.4,1057.7 1473.9,1046.6 1474.3,1036.4 1474.8,1027.2 1475.2,1019.3 1475.7,1012.5 1476.2,1007.2 1476.6,1003.2 1477.1,1000.8 1477.5,1000.0 1478.0,1000.7 1478.4,1002.8 1478.9,1006.2 1479.3,1010.8 1479.8,1016.6 1480.3,1023.4 1480.7,1031.2 1481.2,1040.0 1481.6,1049.7 1482.1,1060.2 1482.5,1071.4 1483.0,1083.3 1483.4,1095.9 1483.9,1108.9 1484.3,1122.5 1484.8,1136.4 1485.3,1150.7 1485.7,1165.3 1486.2,1180.0 1486.6,1194.9 1487.1,1209.9 1487.5,1224.9 1488.0,1239.8 1488.4,1254.6 1488.9,1269.2 1489.3,1283.6 1489.8,1297.6 1490.3,1311.2 1490.7,1324.3 1491.2,1336.9 1491.6,1348.9 1492.1,1360.3 1492.5,1370.8 1493.0,1380.6 1493.4,1389.6 1493.9,1397.6 1494.3,1404.5 1494.8,1410.5 1495.3,1415.2 1495.7,1418.8 1496.2,1421.1 1496.6,1422.0 1497.1,1421.7 1497.5,1420.1 1498.0,1417.5 1498.4,1413.8 1498.9,1409.1 1499.4,1403.5 1499.8,1397.0 1500.3,1389.6 1500.7,1381.5 1501.2,1372.6 1501.6,1363.0 1502.1,1352.7 1502.5,1341.9 1503.0,1330.5 1503.4,1318.7 1503.9,1306.4 1504.4,1293.7 1504.8,1280.6 1505.3,1267.3 1505.7,1253.7 1506.2,1240.0 1506.6,1226.1 1507.1,1212.1 1507.5,1198.1 1508.0,1184.2 1508.4,1170.2 1508.9,1156.4 1509.4,1142.8 1509.8,1129.4 1510.3,1116.2 1510.7,1103.4 1511.2,1090.9 1511.6,1078.9 1512.1,1067.3 1512.5,1056.3 1513.0,1045.8 1513.5,1036.0 1513.9,1026.8 1514.4,1018.4 1514.8,1010.7 1515.3,1003.9 1515.7,997.9 1516.2,992.7 1516.6,987.5 1517.1,982.5 1517.5,978.1 1518.0,975.1 1518.5,973.7 1518.9,974.4 1519.4,976.6 1519.8,980.3 1520.3,985.4 1520.7,991.8 1521.2,999.5 1521.6,1008.4 1522.1,1018.3 1522.5,1029.2 1523.0,1041.0 1523.5,1053.6 1523.9,1067.0 1524.4,1081.1 1524.8,1095.7 1525.3,1110.8 1525.7,1126.3 1526.2,1142.1 1526.6,1158.2 1527.1,1174.4 1527.6,1190.7 1528.0,1207.0 1528.5,1223.2 1528.9,1239.3 1529.4,1255.0 1529.8,1270.4 1530.3,1285.4 1530.7,1299.9 1531.2,1313.8 1531.6,1327.0 1532.1,1339.4 1532.6,1351.0 1533.0,1361.7 1533.5,1371.3 1533.9,1379.9 1534.4,1387.3 1534.8,1393.4 1535.3,1398.1 1535.7,1401.5 1536.2,1403.3 1536.6,1403.5 1537.1,1402.7 1537.6,1401.0 1538.0,1398.3 1538.5,1394.9 1538.9,1390.6 1539.4,1385.5 1539.8,1379.8 1540.3,1373.3 1540.7,1366.2 1541.2,1358.4 1541.6,1350.1 1542.1,1341.2 1542.6,1331.8 1543.0,1322.0 1543.5,1311.7 1543.9,1301.0 1544.4,1290.0 1544.8,1278.6 1545.3,1267.0 1545.7,1255.1 1546.2,1243.0 1546.7,1230.7 1547.1,1218.4 1547.6,1205.9 1548.0,1193.4 1548.5,1180.8 1548.9,1168.3 1549.4,1155.8 1549.8,1143.4 1550.3,1131.2 1550.7,1119.1 1551.2,1107.2 1551.7,1095.6 1552.1,1084.2 1552.6,1073.2 1553.0,1062.5 1553.5,1052.3 1553.9,1041.3 1554.4,1028.3 1554.8,1014.4 1555.3,1000.9 1555.7,989.0 1556.2,979.8 1556.7,974.5 1557.1,973.9 1557.6,975.5 1558.0,978.6 1558.5,983.1 1558.9,989.1 1559.4,996.3 1559.8,1004.7 1560.3,1014.3 1560.8,1024.9 1561.2,1036.4 1561.7,1048.8 1562.1,1061.9 1562.6,1075.7 1563.0,1090.2 1563.5,1105.1 1563.9,1120.5 1564.4,1136.2 1564.8,1152.1 1565.3,1168.3 1565.8,1184.5 1566.2,1200.7 1566.7,1216.8 1567.1,1232.8 1567.6,1248.5 1568.0,1263.8 1568.5,1278.7 1568.9,1293.1 1569.4,1306.9 1569.8,1320.0 1570.3,1332.3 1570.8,1343.8 1571.2,1354.3 1571.7,1363.7 1572.1,1372.1 1572.6,1379.2 1573.0,1385.1 1573.5,1389.5 1573.9,1392.5 1574.4,1394.0 1574.9,1393.9 1575.3,1392.5 1575.8,1389.8 1576.2,1386.1 1576.7,1381.3 1577.1,1375.4 1577.6,1368.6 1578.0,1360.9 1578.5,1352.3 1578.9,1343.0 1579.4,1332.9 1579.9,1322.2 1580.3,1310.8 1580.8,1298.9 1581.2,1286.6 1581.7,1273.8 1582.1,1260.6 1582.6,1247.1 1583.0,1233.4 1583.5,1219.5 1583.9,1205.4 1584.4,1191.3 1584.9,1177.2 1585.3,1163.1 1585.8,1149.2 1586.2,1135.4 1586.7,1121.8 1587.1,1108.5 1587.6,1095.6 1588.0,1083.1 1588.5,1071.0 1588.9,1059.5 1589.4,1048.5 1589.9,1038.2 1590.3,1028.6 1590.8,1019.8 1591.2,1011.8 1591.7,1004.7 1592.1,998.5 1592.6,993.3 1593.0,989.2 1593.5,986.2 1594.0,984.4 1594.4,983.8 1594.9,984.6 1595.3,986.9 1595.8,990.6 1596.2,995.6 1596.7,1001.9 1597.1,1009.3 1597.6,1017.8 1598.0,1027.2 1598.5,1037.7 1599.0,1048.9 1599.4,1061.0 1599.9,1073.7 1600.3,1087.1 1600.8,1101.0 1601.2,1115.4 1601.7,1130.2 1602.1,1145.3 1602.6,1160.6 1603.0,1176.1 1603.5,1191.7 1604.0,1207.3 1604.4,1222.8 1604.9,1238.2 1605.3,1253.3 1605.8,1268.2 1606.2,1282.7 1606.7,1296.7 1607.1,1310.3 1607.6,1323.2 1608.1,1335.4 1608.5,1346.9 1609.0,1357.5 1609.4,1367.3 1609.9,1376.0 1610.3,1383.7 1610.8,1390.3 1611.2,1395.6 1611.7,1399.6 1612.1,1402.3 1612.6,1403.5 1613.1,1403.2 1613.5,1401.2 1614.0,1397.6 1614.4,1392.6 1614.9,1386.2 1615.3,1378.5 1615.8,1369.5 1616.2,1359.5 1616.7,1348.4 1617.1,1336.4 1617.6,1323.6 1618.1,1310.1 1618.5,1295.8 1619.0,1281.1 1619.4,1265.9 1619.9,1250.3 1620.3,1234.4 1620.8,1218.3 1621.2,1202.1 1621.7,1186.0 1622.2,1169.9 1622.6,1154.0 1623.1,1138.4 1623.5,1123.2 1624.0,1108.4 1624.4,1094.1 1624.9,1080.6 1625.3,1067.7 1625.8,1055.7 1626.2,1044.6 1626.7,1034.5 1627.2,1025.5 1627.6,1017.8 1628.1,1011.3 1628.5,1006.2 1629.0,1002.6 1629.4,1000.5 1629.9,999.3 1630.3,998.1 1630.8,996.9 1631.2,995.9 1631.7,994.9 1632.2,994.1 1632.6,993.4 1633.1,992.8 1633.5,992.4 1634.0,992.2 1634.4,992.3 1634.9,993.8 1635.3,996.8 1635.8,1001.2 1636.2,1007.0 1636.7,1014.0 1637.2,1022.2 1637.6,1031.4 1638.1,1041.7 1638.5,1052.8 1639.0,1064.8 1639.4,1077.5 1639.9,1090.9 1640.3,1104.9 1640.8,1119.3 1641.3,1134.1 1641.7,1149.2 1642.2,1164.5 1642.6,1180.0 1643.1,1195.6 1643.5,1211.0 1644.0,1226.4 1644.4,1241.6 1644.9,1256.4 1645.3,1270.9 1645.8,1284.9 1646.3,1298.4 1646.7,1311.2 1647.2,1323.3 1647.6,1334.6 1648.1,1345.0 1648.5,1354.4 1649.0,1362.8 1649.4,1370.0 1649.9,1375.9 1650.3,1380.5 1650.8,1383.7 1651.3,1385.4 1651.7,1385.6 1652.2,1384.0 1652.6,1381.0 1653.1,1376.4 1653.5,1370.5 1654.0,1363.3 1654.4,1354.9 1654.9,1345.3 1655.4,1334.8 1655.8,1323.4 1656.3,1311.2 1656.7,1298.2 1657.2,1284.6 1657.6,1270.4 1658.1,1255.8 1658.5,1240.8 1659.0,1225.6 1659.4,1210.2 1659.9,1194.7 1660.4,1179.2 1660.8,1163.9 1661.3,1148.7 1661.7,1133.8 1662.2,1119.3 1662.6,1105.3 1663.1,1091.9 1663.5,1079.1 1664.0,1067.1 1664.4,1055.9 1664.9,1045.7 1665.4,1036.5 1665.8,1028.4 1666.3,1021.5 1666.7,1016.0 1667.2,1011.8 1667.6,1009.2 1668.1,1008.0 1668.5,1007.1 1669.0,1006.2 1669.5,1005.4 1669.9,1004.6 1670.4,1003.9 1670.8,1003.2 1671.3,1002.6 1671.7,1002.2 1672.2,1001.7 1672.6,1001.4 1673.1,1001.2 1673.5,1001.1 1674.0,1001.5 1674.5,1003.2 1674.9,1006.5 1675.4,1011.1 1675.8,1017.0 1676.3,1024.1 1676.7,1032.3 1677.2,1041.6 1677.6,1051.8 1678.1,1062.9 1678.5,1074.8 1679.0,1087.3 1679.5,1100.5 1679.9,1114.3 1680.4,1128.5 1680.8,1143.0 1681.3,1157.8 1681.7,1172.9 1682.2,1188.0 1682.6,1203.2 1683.1,1218.3 1683.5,1233.3 1684.0,1248.0 1684.5,1262.5 1684.9,1276.6 1685.4,1290.1 1685.8,1303.2 1686.3,1315.6 1686.7,1327.2 1687.2,1338.1 1687.6,1348.0 1688.1,1357.0 1688.6,1364.9 1689.0,1371.7 1689.5,1377.2 1689.9,1381.4 1690.4,1384.3 1690.8,1385.6 1691.3,1385.4 1691.7,1383.6 1692.2,1380.4 1692.6,1375.8 1693.1,1369.9 1693.6,1362.8 1694.0,1354.5 1694.5,1345.2 1694.9,1334.9 1695.4,1323.7 1695.8,1311.7 1696.3,1299.0 1696.7,1285.6 1697.2,1271.6 1697.6,1257.2 1698.1,1242.3 1698.6,1227.2 1699.0,1211.7 1699.5,1196.2 1699.9,1180.5 1700.4,1164.8 1700.8,1149.2 1701.3,1133.8 1701.7,1118.6 1702.2,1103.7 1702.7,1089.3 1703.1,1075.3 1703.6,1061.9 1704.0,1049.1 1704.5,1037.1 1704.9,1025.8 1705.4,1015.5 1705.8,1006.1 1706.3,997.8 1706.7,990.6 1707.2,984.6 1707.7,980.0 1708.1,976.0 1708.6,972.0 1709.0,968.2 1709.5,964.7 1709.9,961.7 1710.4,959.2 1710.8,957.4 1711.3,956.5 1711.7,956.7 1712.2,958.6 1712.7,962.2 1713.1,967.4 1713.6,974.1 1714.0,982.2 1714.5,991.6 1714.9,1002.3 1715.4,1014.1 1715.8,1026.9 1716.3,1040.6 1716.7,1055.2 1717.2,1070.5 1717.7,1086.5 1718.1,1103.0 1718.6,1120.0 1719.0,1137.3 1719.5,1155.0 1719.9,1172.8 1720.4,1190.6 1720.8,1208.5 1721.3,1226.3 1721.8,1243.8 1722.2,1261.1 1722.7,1278.0 1723.1,1294.3 1723.6,1310.1 1724.0,1325.3 1724.5,1339.6 1724.9,1353.1 1725.4,1365.6 1725.8,1377.1 1726.3,1387.4 1726.8,1396.4 1727.2,1404.2 1727.7,1410.4 1728.1,1415.2 1728.6,1418.3 1729.0,1419.7 1729.5,1419.4 1729.9,1417.4 1730.4,1413.9 1730.8,1408.9 1731.3,1402.5 1731.8,1394.9 1732.2,1386.0 1732.7,1376.0 1733.1,1365.0 1733.6,1353.0 1734.0,1340.2 1734.5,1326.5 1734.9,1312.2 1735.4,1297.2 1735.9,1281.7 1736.3,1265.7 1736.8,1249.4 1737.2,1232.7 1737.7,1215.9 1738.1,1198.9 1738.6,1181.9 1739.0,1164.9 1739.5,1148.1 1739.9,1131.4 1740.4,1115.1 1740.9,1099.1 1741.3,1083.6 1741.8,1068.7 1742.2,1054.3 1742.7,1040.7 1743.1,1027.9 1743.6,1015.9 1744.0,1004.9 1744.5,994.9 1744.9,986.1 1745.4,978.5 1745.9,972.2 1746.3,967.2 1746.8,962.6 1747.2,958.0 1747.7,953.6 1748.1,949.5 1748.6,945.8 1749.0,942.6 1749.5,940.1 1750.0,938.3 1750.4,937.5 1750.9,937.8 1751.3,939.9 1751.8,943.9 1752.2,949.6 1752.7,956.9 1753.1,965.6 1753.6,975.8 1754.0,987.2 1754.5,999.7 1755.0,1013.4 1755.4,1027.9 1755.9,1043.3 1756.3,1059.5 1756.8,1076.2 1757.2,1093.5 1757.7,1111.2 1758.1,1129.2 1758.6,1147.4 1759.0,1165.7 1759.5,1183.9 1760.0,1202.0 1760.4,1219.9 1760.9,1237.5 1761.3,1254.5 1761.8,1271.1 1762.2,1286.9 1762.7,1302.0 1763.1,1316.2 1763.6,1329.4 1764.0,1341.5 1764.5,1352.3 1765.0,1361.9 1765.4,1370.1 1765.9,1376.7 1766.3,1381.6 1766.8,1384.9 1767.2,1386.2 1767.7,1386.0 1768.1,1385.1 1768.6,1383.6 1769.1,1381.6 1769.5,1379.0 1770.0,1376.1 1770.4,1372.9 1770.9,1369.4 1771.3,1365.7 1771.8,1361.9 1772.2,1358.1 1772.7,1353.2 1773.1,1346.8 1773.6,1339.0 1774.1,1329.9 1774.5,1319.6 1775.0,1308.3 1775.4,1296.0 1775.9,1282.7 1776.3,1268.8 1776.8,1254.1 1777.2,1238.9 1777.7,1223.1 1778.1,1207.1 1778.6,1190.7 1779.1,1174.2 1779.5,1157.7 1780.0,1141.1 1780.4,1124.7 1780.9,1108.6 1781.3,1092.8 1781.8,1077.5 1782.2,1062.7 1782.7,1048.5 1783.2,1035.2 1783.6,1022.6 1784.1,1011.1 1784.5,1000.6 1785.0,991.3 1785.4,983.2 1785.9,976.5 1786.3,971.3 1786.8,967.6 1787.2,965.7 1787.7,965.5 1788.2,966.7 1788.6,969.2 1789.1,972.9 1789.5,977.8 1790.0,983.8 1790.4,990.9 1790.9,998.9 1791.3,1007.8 1791.8,1017.6 1792.2,1028.2 1792.7,1039.5 1793.2,1051.5 1793.6,1064.1 1794.1,1077.1 1794.5,1090.7 1795.0,1104.7 1795.4,1119.0 1795.9,1133.6 1796.3,1148.4 1796.8,1163.3 1797.3,1178.4 1797.7,1193.5 1798.2,1208.5 1798.6,1223.4 1799.1,1238.2 1799.5,1252.7 1800.0,1267.0 1800.4,1280.8 1800.9,1294.3 1801.3,1307.3 1801.8,1319.7 1802.3,1331.5 1802.7,1342.7 1803.2,1353.1 1803.6,1362.7 1804.1,1371.4 1804.5,1379.2 1805.0,1386.0 1805.4,1391.8 1805.9,1396.4 1806.3,1399.9 1806.8,1402.1 1807.3,1403.0 1807.7,1402.3 1808.2,1399.7 1808.6,1395.3 1809.1,1389.1 1809.5,1381.3 1810.0,1372.1 1810.4,1361.4 1810.9,1349.4 1811.3,1336.3 1811.8,1322.2 1812.3,1307.1 1812.7,1291.1 1813.2,1274.5 1813.6,1257.2 1814.1,1239.4 1814.5,1221.3 1815.0,1202.8 1815.4,1184.2 1815.9,1165.6 1816.4,1147.0 1816.8,1128.5 1817.3,1110.4 1817.7,1092.6 1818.2,1075.3 1818.6,1058.7 1819.1,1042.7 1819.5,1027.6 1820.0,1013.5 1820.4,1000.4 1820.9,988.4 1821.4,977.8 1821.8,968.5 1822.3,960.7 1822.7,954.5 1823.2,950.1 1823.6,946.2 1824.1,942.4 1824.5,938.8 1825.0,935.6 1825.4,932.8 1825.9,930.6 1826.4,929.1 1826.8,928.5 1827.3,929.1 1827.7,931.5 1828.2,935.8 1828.6,941.8 1829.1,949.5 1829.5,958.6 1830.0,969.1 1830.5,980.9 1830.9,993.9 1831.4,1007.9 1831.8,1023.0 1832.3,1038.9 1832.7,1055.6 1833.2,1072.9 1833.6,1090.8 1834.1,1109.1 1834.5,1127.8 1835.0,1146.7 1835.5,1165.7 1835.9,1184.7 1836.4,1203.7 1836.8,1222.5 1837.3,1241.0 1837.7,1259.1 1838.2,1276.7 1838.6,1293.6 1839.1,1309.9 1839.5,1325.3 1840.0,1339.8 1840.5,1353.3 1840.9,1365.7 1841.4,1376.8 1841.8,1386.5 1842.3,1394.8 1842.7,1401.6 1843.2,1406.6 1843.6,1409.9 1844.1,1411.4 1844.6,1411.0 1845.0,1409.4 1845.5,1406.5 1845.9,1402.5 1846.4,1397.3 1846.8,1391.2 1847.3,1384.0 1847.7,1375.8 1848.2,1366.8 1848.6,1357.0 1849.1,1346.4 1849.6,1335.2 1850.0,1323.2 1850.5,1310.7 1850.9,1297.7 1851.4,1284.1 1851.8,1270.2 1852.3,1255.9 1852.7,1241.4 1853.2,1226.5 1853.6,1211.5 1854.1,1196.4 1854.6,1181.2 1855.0,1166.1 1855.5,1150.9 1855.9,1135.9 1856.4,1121.0 1856.8,1106.4 1857.3,1092.1 1857.7,1078.1 1858.2,1064.5 1858.6,1051.3 1859.1,1038.7 1859.6,1026.6 1860.0,1015.2 1860.5,1004.5 1860.9,994.5 1861.4,985.3 1861.8,977.0 1862.3,969.7 1862.7,963.3 1863.2,957.9 1863.7,953.6 1864.1,950.5 1864.6,948.6 1865.0,948.0 1865.5,948.8 1865.9,951.1 1866.4,954.8 1866.8,959.9 1867.3,966.2 1867.7,973.7 1868.2,982.3 1868.7,991.9 1869.1,1002.5 1869.6,1014.0 1870.0,1026.4 1870.5,1039.4 1870.9,1053.2 1871.4,1067.5 1871.8,1082.4 1872.3,1097.7 1872.7,1113.4 1873.2,1129.4 1873.7,1145.6 1874.1,1162.0 1874.6,1178.4 1875.0,1194.9 1875.5,1211.3 1875.9,1227.5 1876.4,1243.5 1876.8,1259.3 1877.3,1274.6 1877.8,1289.6 1878.2,1304.0 1878.7,1317.9 1879.1,1331.0 1879.6,1343.5 1880.0,1355.1 1880.5,1365.9 1880.9,1375.7 1881.4,1384.5 1881.8,1392.2 1882.3,1398.7 1882.8,1403.9 1883.2,1407.8 1883.7,1410.3 1884.1,1411.4 1884.6,1410.9 1885.0,1408.9 1885.5,1405.4 1885.9,1400.6 1886.4,1394.5 1886.8,1387.1 1887.3,1378.6 1887.8,1369.1 1888.2,1358.5 1888.7,1347.1 1889.1,1334.8 1889.6,1321.8 1890.0,1308.1 1890.5,1293.8 1890.9,1279.0 1891.4,1263.8 1891.9,1248.1 1892.3,1232.2 1892.8,1216.1 1893.2,1199.9 1893.7,1183.6 1894.1,1167.3 1894.6,1151.1 1895.0,1135.1 1895.5,1119.4 1895.9,1104.0 1896.4,1089.0 1896.9,1074.4 1897.3,1060.5 1897.8,1047.2 1898.2,1034.6 1898.7,1022.8 1899.1,1011.9 1899.6,1001.9 1900.0,993.0 1900.5,985.2 1900.9,978.5 1901.4,973.2 1901.9,969.1 1902.3,966.5 1902.8,965.4 1903.2,965.5 1903.7,966.3 1904.1,967.6 1904.6,969.4 1905.0,971.5 1905.5,974.0 1905.9,976.7 1906.4,979.7 1906.9,982.7 1907.3,986.7 1907.8,991.8 1908.2,997.9 1908.7,1005.1 1909.1,1013.3 1909.6,1022.4 1910.0,1032.6 1910.5,1043.6 1911.0,1055.6 1911.4,1068.4 1911.9,1082.1 1912.3,1096.7 1912.8,1112.1 1913.2,1128.2 1913.7,1145.1 1914.1,1162.8 1914.6,1181.2 1915.0,1200.2 1915.5,1219.9 1916.0,1240.3 1916.4,1261.3 1916.9,1282.9" class="curve" style="stroke:#147814"/>
<path d="M1440.3 868V1379.2M1476.5 868V1379.2M1359.5 888.8H1434.3M1482.5 888.8H1558.3" class="blue" style="stroke:#2020d8"/>
<path d="M1439 888.8L1431.5 884.3L1431.5 893.3Z" class="bluef" style="fill:#2020d8"/>
<path d="M1477.8 888.8L1485.3 884.3L1485.3 893.3Z" class="bluef" style="fill:#2020d8"/>
<text x="1566" y="904.7" class="ann" style="font-size:48.6px"><tspan class="fi" style="font-size:46.17px">f</tspan><tspan dx="3.65">=</tspan>1.99GHz</text>
<path d="M1197.4 1459.5v-12M1350.38 1459.5v-12M1503.36 1459.5v-12M1656.34 1459.5v-12M1809.32 1459.5v-12M1962.3 1459.5v-12M1273.89 1459.5v-6M1426.87 1459.5v-6M1579.85 1459.5v-6M1732.83 1459.5v-6M1885.81 1459.5v-6M1197.4 1403.6h12M1197.4 1291.8h12M1197.4 1180h12M1197.4 1068.2h12M1197.4 956.4h12M1197.4 844.6h12M1197.4 1459.5h6M1197.4 1347.7h6M1197.4 1235.9h6M1197.4 1124.1h6M1197.4 1012.3h6M1197.4 900.5h6" class="tick"/>
<rect x="1197.4" y="844.6" width="764.9" height="614.9" class="frame"/>
<text transform="translate(1197.4 1508.8) scale(0.96 1)" class="tl tk" text-anchor="middle">0</text>
<text transform="translate(1350.38 1508.8) scale(0.96 1)" class="tl tk" text-anchor="middle">2</text>
<text transform="translate(1503.36 1508.8) scale(0.96 1)" class="tl tk" text-anchor="middle">4</text>
<text transform="translate(1656.34 1508.8) scale(0.96 1)" class="tl tk" text-anchor="middle">6</text>
<text transform="translate(1809.32 1508.8) scale(0.96 1)" class="tl tk" text-anchor="middle">8</text>
<text transform="translate(1962.3 1508.8) scale(0.96 1)" class="tl tk" text-anchor="middle">10</text>
<text transform="translate(1186 1418.9) scale(0.96 1)" class="tl tk" text-anchor="end">0</text>
<text transform="translate(1186 1307.1) scale(0.96 1)" class="tl tk" text-anchor="end">20</text>
<text transform="translate(1186 1195.3) scale(0.96 1)" class="tl tk" text-anchor="end">40</text>
<text transform="translate(1186 1083.5) scale(0.96 1)" class="tl tk" text-anchor="end">60</text>
<text transform="translate(1186 971.7) scale(0.96 1)" class="tl tk" text-anchor="end">80</text>
<text transform="translate(1186 859.9) scale(0.96 1)" class="tl tk" text-anchor="end">100</text>
</g>
<text x="193" y="72.1" class="tl">(a)</text>
<text x="1240" y="73" class="tl">(b)</text>
<text x="185.7" y="884.5" class="tl">(c)</text>
<text x="1211" y="885" class="tl">(d)</text>
<text x="565.6" y="771.8" class="ti tt" text-anchor="middle">Time (ns)</text>
<text x="1613.3" y="771.3" class="ti tt" text-anchor="middle">Time (ns)</text>
<text x="554.5" y="1587.3" class="ti tt" text-anchor="middle">Time (ns)</text>
<text x="1579.2" y="1587.3" class="ti tt" text-anchor="middle">Time (ns)</text>
<text transform="translate(62.5 322.7) rotate(-90)" x="0" y="0" class="ti" text-anchor="middle">Voltage (mV)</text>
<text transform="translate(1110.5 322.5) rotate(-90)" x="0" y="0" class="ti" text-anchor="middle">Voltage (mV)</text>
<text transform="translate(51 1137) rotate(-90)" x="0" y="0" class="ti" text-anchor="middle">Voltage (mV)</text>
<text transform="translate(1076 1137) rotate(-90)" x="0" y="0" class="ti" text-anchor="middle">Voltage (mV)</text>
</svg></body></html>
